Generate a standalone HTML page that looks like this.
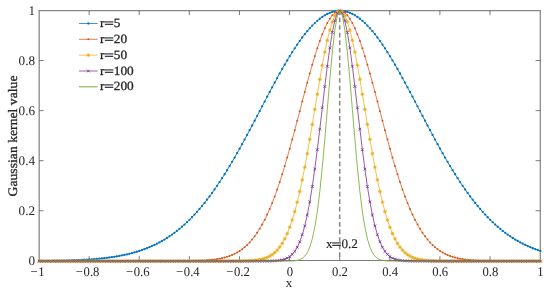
<!DOCTYPE html>
<html><head><meta charset="utf-8"><title>Gaussian kernel</title>
<style>html,body{margin:0;padding:0;background:#fff}svg text.b{stroke:#262626;stroke-width:0.3px}svg text{text-rendering:geometricPrecision;font-family:"Liberation Serif", serif}</style></head>
<body>
<svg width="550" height="293" viewBox="0 0 550 293" style="display:block">
<rect width="550" height="293" fill="#fff"/>
<path d="M38.40 10.6H540.90" stroke="#868686" stroke-width="1.25" fill="none"/>
<path d="M38.40 260.5H540.90" stroke="#7a7a7a" stroke-width="1.1" fill="none"/>
<path d="M39.20 10.6V260.5M540.30 10.6V260.5" stroke="#868686" stroke-width="1.25" fill="none"/>
<path d="M89.11 260.80V256.20M89.11 10.50V15.10M139.23 260.80V256.20M139.23 10.50V15.10M189.35 260.80V256.20M189.35 10.50V15.10M239.46 260.80V256.20M239.46 10.50V15.10M289.57 260.80V256.20M289.57 10.50V15.10M339.69 260.80V256.20M339.69 10.50V15.10M389.81 260.80V256.20M389.81 10.50V15.10M439.92 260.80V256.20M439.92 10.50V15.10M490.03 260.80V256.20M490.03 10.50V15.10M39.00 210.74H43.60M540.15 210.74H535.55M39.00 160.68H43.60M540.15 160.68H535.55M39.00 110.62H43.60M540.15 110.62H535.55M39.00 60.56H43.60M540.15 60.56H535.55" stroke="#5a5a5a" stroke-width="0.8" fill="none"/>
<line x1="339.69" y1="10.03" x2="339.69" y2="260.80" stroke="#8a8a8a" stroke-width="1.6" stroke-dasharray="4.7 2.87"/>
<path d="M39.15 260.96L41.66 260.94L44.16 260.91L46.67 260.88L49.17 260.85L51.68 260.81L54.18 260.77L56.69 260.73L59.20 260.68L61.70 260.62L64.21 260.56L66.71 260.49L69.22 260.42L71.72 260.33L74.23 260.24L76.74 260.14L79.24 260.03L81.75 259.91L84.25 259.77L86.76 259.62L89.26 259.46L91.77 259.29L94.28 259.09L96.78 258.88L99.29 258.65L101.79 258.40L104.30 258.13L106.81 257.84L109.31 257.51L111.82 257.17L114.32 256.79L116.83 256.38L119.33 255.94L121.84 255.46L124.35 254.95L126.85 254.40L129.36 253.80L131.86 253.16L134.37 252.47L136.87 251.74L139.38 250.95L141.89 250.10L144.39 249.20L146.90 248.24L149.40 247.21L151.91 246.12L154.41 244.96L156.92 243.72L159.43 242.41L161.93 241.02L164.44 239.55L166.94 238.00L169.45 236.35L171.95 234.62L174.46 232.80L176.97 230.88L179.47 228.86L181.98 226.75L184.48 224.53L186.99 222.20L189.50 219.78L192.00 217.24L194.51 214.59L197.01 211.84L199.52 208.97L202.02 205.99L204.53 202.90L207.04 199.70L209.54 196.39L212.05 192.97L214.55 189.44L217.06 185.80L219.56 182.05L222.07 178.21L224.58 174.26L227.08 170.21L229.59 166.08L232.09 161.85L234.60 157.54L237.10 153.15L239.61 148.68L242.12 144.15L244.62 139.56L247.13 134.91L249.63 130.22L252.14 125.49L254.64 120.73L257.15 115.94L259.66 111.15L262.16 106.35L264.67 101.55L267.17 96.77L269.68 92.02L272.18 87.31L274.69 82.64L277.20 78.03L279.70 73.48L282.21 69.02L284.71 64.65L287.22 60.38L289.72 56.22L292.23 52.19L294.74 48.28L297.24 44.53L299.75 40.92L302.25 37.48L304.76 34.22L307.27 31.13L309.77 28.24L312.28 25.54L314.78 23.06L317.29 20.78L319.79 18.73L322.30 16.91L324.81 15.32L327.31 13.96L329.82 12.84L332.32 11.97L334.83 11.35L337.33 10.98L339.84 10.85L342.35 10.98L344.85 11.35L347.36 11.97L349.86 12.84L352.37 13.96L354.87 15.32L357.38 16.91L359.89 18.73L362.39 20.78L364.90 23.06L367.40 25.54L369.91 28.24L372.41 31.13L374.92 34.22L377.43 37.48L379.93 40.92L382.44 44.53L384.94 48.28L387.45 52.19L389.95 56.22L392.46 60.38L394.97 64.65L397.47 69.02L399.98 73.48L402.48 78.03L404.99 82.64L407.50 87.31L410.00 92.02L412.51 96.77L415.01 101.55L417.52 106.35L420.02 111.15L422.53 115.94L425.04 120.73L427.54 125.49L430.05 130.22L432.55 134.91L435.06 139.56L437.56 144.15L440.07 148.68L442.58 153.15L445.08 157.54L447.59 161.85L450.09 166.08L452.60 170.21L455.10 174.26L457.61 178.21L460.12 182.05L462.62 185.80L465.13 189.44L467.63 192.97L470.14 196.39L472.64 199.70L475.15 202.90L477.66 205.99L480.16 208.97L482.67 211.84L485.17 214.59L487.68 217.24L490.18 219.78L492.69 222.20L495.20 224.53L497.70 226.75L500.21 228.86L502.71 230.88L505.22 232.80L507.73 234.62L510.23 236.35L512.74 238.00L515.24 239.55L517.75 241.02L520.25 242.41L522.76 243.72L525.27 244.96L527.77 246.12L530.28 247.21L532.78 248.24L535.29 249.20L537.79 250.10L540.30 250.95" fill="none" stroke="#0072BD" stroke-width="0.9" stroke-linejoin="round"/>
<g><circle cx="39.15" cy="260.96" r="1.15" fill="#0072BD"/><circle cx="41.66" cy="260.94" r="1.15" fill="#0072BD"/><circle cx="44.16" cy="260.91" r="1.15" fill="#0072BD"/><circle cx="46.67" cy="260.88" r="1.15" fill="#0072BD"/><circle cx="49.17" cy="260.85" r="1.15" fill="#0072BD"/><circle cx="51.68" cy="260.81" r="1.15" fill="#0072BD"/><circle cx="54.18" cy="260.77" r="1.15" fill="#0072BD"/><circle cx="56.69" cy="260.73" r="1.15" fill="#0072BD"/><circle cx="59.20" cy="260.68" r="1.15" fill="#0072BD"/><circle cx="61.70" cy="260.62" r="1.15" fill="#0072BD"/><circle cx="64.21" cy="260.56" r="1.15" fill="#0072BD"/><circle cx="66.71" cy="260.49" r="1.15" fill="#0072BD"/><circle cx="69.22" cy="260.42" r="1.15" fill="#0072BD"/><circle cx="71.72" cy="260.33" r="1.15" fill="#0072BD"/><circle cx="74.23" cy="260.24" r="1.15" fill="#0072BD"/><circle cx="76.74" cy="260.14" r="1.15" fill="#0072BD"/><circle cx="79.24" cy="260.03" r="1.15" fill="#0072BD"/><circle cx="81.75" cy="259.91" r="1.15" fill="#0072BD"/><circle cx="84.25" cy="259.77" r="1.15" fill="#0072BD"/><circle cx="86.76" cy="259.62" r="1.15" fill="#0072BD"/><circle cx="89.26" cy="259.46" r="1.15" fill="#0072BD"/><circle cx="91.77" cy="259.29" r="1.15" fill="#0072BD"/><circle cx="94.28" cy="259.09" r="1.15" fill="#0072BD"/><circle cx="96.78" cy="258.88" r="1.15" fill="#0072BD"/><circle cx="99.29" cy="258.65" r="1.15" fill="#0072BD"/><circle cx="101.79" cy="258.40" r="1.15" fill="#0072BD"/><circle cx="104.30" cy="258.13" r="1.15" fill="#0072BD"/><circle cx="106.81" cy="257.84" r="1.15" fill="#0072BD"/><circle cx="109.31" cy="257.51" r="1.15" fill="#0072BD"/><circle cx="111.82" cy="257.17" r="1.15" fill="#0072BD"/><circle cx="114.32" cy="256.79" r="1.15" fill="#0072BD"/><circle cx="116.83" cy="256.38" r="1.15" fill="#0072BD"/><circle cx="119.33" cy="255.94" r="1.15" fill="#0072BD"/><circle cx="121.84" cy="255.46" r="1.15" fill="#0072BD"/><circle cx="124.35" cy="254.95" r="1.15" fill="#0072BD"/><circle cx="126.85" cy="254.40" r="1.15" fill="#0072BD"/><circle cx="129.36" cy="253.80" r="1.15" fill="#0072BD"/><circle cx="131.86" cy="253.16" r="1.15" fill="#0072BD"/><circle cx="134.37" cy="252.47" r="1.15" fill="#0072BD"/><circle cx="136.87" cy="251.74" r="1.15" fill="#0072BD"/><circle cx="139.38" cy="250.95" r="1.15" fill="#0072BD"/><circle cx="141.89" cy="250.10" r="1.15" fill="#0072BD"/><circle cx="144.39" cy="249.20" r="1.15" fill="#0072BD"/><circle cx="146.90" cy="248.24" r="1.15" fill="#0072BD"/><circle cx="149.40" cy="247.21" r="1.15" fill="#0072BD"/><circle cx="151.91" cy="246.12" r="1.15" fill="#0072BD"/><circle cx="154.41" cy="244.96" r="1.15" fill="#0072BD"/><circle cx="156.92" cy="243.72" r="1.15" fill="#0072BD"/><circle cx="159.43" cy="242.41" r="1.15" fill="#0072BD"/><circle cx="161.93" cy="241.02" r="1.15" fill="#0072BD"/><circle cx="164.44" cy="239.55" r="1.15" fill="#0072BD"/><circle cx="166.94" cy="238.00" r="1.15" fill="#0072BD"/><circle cx="169.45" cy="236.35" r="1.15" fill="#0072BD"/><circle cx="171.95" cy="234.62" r="1.15" fill="#0072BD"/><circle cx="174.46" cy="232.80" r="1.15" fill="#0072BD"/><circle cx="176.97" cy="230.88" r="1.15" fill="#0072BD"/><circle cx="179.47" cy="228.86" r="1.15" fill="#0072BD"/><circle cx="181.98" cy="226.75" r="1.15" fill="#0072BD"/><circle cx="184.48" cy="224.53" r="1.15" fill="#0072BD"/><circle cx="186.99" cy="222.20" r="1.15" fill="#0072BD"/><circle cx="189.50" cy="219.78" r="1.15" fill="#0072BD"/><circle cx="192.00" cy="217.24" r="1.15" fill="#0072BD"/><circle cx="194.51" cy="214.59" r="1.15" fill="#0072BD"/><circle cx="197.01" cy="211.84" r="1.15" fill="#0072BD"/><circle cx="199.52" cy="208.97" r="1.15" fill="#0072BD"/><circle cx="202.02" cy="205.99" r="1.15" fill="#0072BD"/><circle cx="204.53" cy="202.90" r="1.15" fill="#0072BD"/><circle cx="207.04" cy="199.70" r="1.15" fill="#0072BD"/><circle cx="209.54" cy="196.39" r="1.15" fill="#0072BD"/><circle cx="212.05" cy="192.97" r="1.15" fill="#0072BD"/><circle cx="214.55" cy="189.44" r="1.15" fill="#0072BD"/><circle cx="217.06" cy="185.80" r="1.15" fill="#0072BD"/><circle cx="219.56" cy="182.05" r="1.15" fill="#0072BD"/><circle cx="222.07" cy="178.21" r="1.15" fill="#0072BD"/><circle cx="224.58" cy="174.26" r="1.15" fill="#0072BD"/><circle cx="227.08" cy="170.21" r="1.15" fill="#0072BD"/><circle cx="229.59" cy="166.08" r="1.15" fill="#0072BD"/><circle cx="232.09" cy="161.85" r="1.15" fill="#0072BD"/><circle cx="234.60" cy="157.54" r="1.15" fill="#0072BD"/><circle cx="237.10" cy="153.15" r="1.15" fill="#0072BD"/><circle cx="239.61" cy="148.68" r="1.15" fill="#0072BD"/><circle cx="242.12" cy="144.15" r="1.15" fill="#0072BD"/><circle cx="244.62" cy="139.56" r="1.15" fill="#0072BD"/><circle cx="247.13" cy="134.91" r="1.15" fill="#0072BD"/><circle cx="249.63" cy="130.22" r="1.15" fill="#0072BD"/><circle cx="252.14" cy="125.49" r="1.15" fill="#0072BD"/><circle cx="254.64" cy="120.73" r="1.15" fill="#0072BD"/><circle cx="257.15" cy="115.94" r="1.15" fill="#0072BD"/><circle cx="259.66" cy="111.15" r="1.15" fill="#0072BD"/><circle cx="262.16" cy="106.35" r="1.15" fill="#0072BD"/><circle cx="264.67" cy="101.55" r="1.15" fill="#0072BD"/><circle cx="267.17" cy="96.77" r="1.15" fill="#0072BD"/><circle cx="269.68" cy="92.02" r="1.15" fill="#0072BD"/><circle cx="272.18" cy="87.31" r="1.15" fill="#0072BD"/><circle cx="274.69" cy="82.64" r="1.15" fill="#0072BD"/><circle cx="277.20" cy="78.03" r="1.15" fill="#0072BD"/><circle cx="279.70" cy="73.48" r="1.15" fill="#0072BD"/><circle cx="282.21" cy="69.02" r="1.15" fill="#0072BD"/><circle cx="284.71" cy="64.65" r="1.15" fill="#0072BD"/><circle cx="287.22" cy="60.38" r="1.15" fill="#0072BD"/><circle cx="289.72" cy="56.22" r="1.15" fill="#0072BD"/><circle cx="292.23" cy="52.19" r="1.15" fill="#0072BD"/><circle cx="294.74" cy="48.28" r="1.15" fill="#0072BD"/><circle cx="297.24" cy="44.53" r="1.15" fill="#0072BD"/><circle cx="299.75" cy="40.92" r="1.15" fill="#0072BD"/><circle cx="302.25" cy="37.48" r="1.15" fill="#0072BD"/><circle cx="304.76" cy="34.22" r="1.15" fill="#0072BD"/><circle cx="307.27" cy="31.13" r="1.15" fill="#0072BD"/><circle cx="309.77" cy="28.24" r="1.15" fill="#0072BD"/><circle cx="312.28" cy="25.54" r="1.15" fill="#0072BD"/><circle cx="314.78" cy="23.06" r="1.15" fill="#0072BD"/><circle cx="317.29" cy="20.78" r="1.15" fill="#0072BD"/><circle cx="319.79" cy="18.73" r="1.15" fill="#0072BD"/><circle cx="322.30" cy="16.91" r="1.15" fill="#0072BD"/><circle cx="324.81" cy="15.32" r="1.15" fill="#0072BD"/><circle cx="327.31" cy="13.96" r="1.15" fill="#0072BD"/><circle cx="329.82" cy="12.84" r="1.15" fill="#0072BD"/><circle cx="332.32" cy="11.97" r="1.15" fill="#0072BD"/><circle cx="334.83" cy="11.35" r="1.15" fill="#0072BD"/><circle cx="337.33" cy="10.98" r="1.15" fill="#0072BD"/><circle cx="339.84" cy="10.85" r="1.15" fill="#0072BD"/><circle cx="342.35" cy="10.98" r="1.15" fill="#0072BD"/><circle cx="344.85" cy="11.35" r="1.15" fill="#0072BD"/><circle cx="347.36" cy="11.97" r="1.15" fill="#0072BD"/><circle cx="349.86" cy="12.84" r="1.15" fill="#0072BD"/><circle cx="352.37" cy="13.96" r="1.15" fill="#0072BD"/><circle cx="354.87" cy="15.32" r="1.15" fill="#0072BD"/><circle cx="357.38" cy="16.91" r="1.15" fill="#0072BD"/><circle cx="359.89" cy="18.73" r="1.15" fill="#0072BD"/><circle cx="362.39" cy="20.78" r="1.15" fill="#0072BD"/><circle cx="364.90" cy="23.06" r="1.15" fill="#0072BD"/><circle cx="367.40" cy="25.54" r="1.15" fill="#0072BD"/><circle cx="369.91" cy="28.24" r="1.15" fill="#0072BD"/><circle cx="372.41" cy="31.13" r="1.15" fill="#0072BD"/><circle cx="374.92" cy="34.22" r="1.15" fill="#0072BD"/><circle cx="377.43" cy="37.48" r="1.15" fill="#0072BD"/><circle cx="379.93" cy="40.92" r="1.15" fill="#0072BD"/><circle cx="382.44" cy="44.53" r="1.15" fill="#0072BD"/><circle cx="384.94" cy="48.28" r="1.15" fill="#0072BD"/><circle cx="387.45" cy="52.19" r="1.15" fill="#0072BD"/><circle cx="389.95" cy="56.22" r="1.15" fill="#0072BD"/><circle cx="392.46" cy="60.38" r="1.15" fill="#0072BD"/><circle cx="394.97" cy="64.65" r="1.15" fill="#0072BD"/><circle cx="397.47" cy="69.02" r="1.15" fill="#0072BD"/><circle cx="399.98" cy="73.48" r="1.15" fill="#0072BD"/><circle cx="402.48" cy="78.03" r="1.15" fill="#0072BD"/><circle cx="404.99" cy="82.64" r="1.15" fill="#0072BD"/><circle cx="407.50" cy="87.31" r="1.15" fill="#0072BD"/><circle cx="410.00" cy="92.02" r="1.15" fill="#0072BD"/><circle cx="412.51" cy="96.77" r="1.15" fill="#0072BD"/><circle cx="415.01" cy="101.55" r="1.15" fill="#0072BD"/><circle cx="417.52" cy="106.35" r="1.15" fill="#0072BD"/><circle cx="420.02" cy="111.15" r="1.15" fill="#0072BD"/><circle cx="422.53" cy="115.94" r="1.15" fill="#0072BD"/><circle cx="425.04" cy="120.73" r="1.15" fill="#0072BD"/><circle cx="427.54" cy="125.49" r="1.15" fill="#0072BD"/><circle cx="430.05" cy="130.22" r="1.15" fill="#0072BD"/><circle cx="432.55" cy="134.91" r="1.15" fill="#0072BD"/><circle cx="435.06" cy="139.56" r="1.15" fill="#0072BD"/><circle cx="437.56" cy="144.15" r="1.15" fill="#0072BD"/><circle cx="440.07" cy="148.68" r="1.15" fill="#0072BD"/><circle cx="442.58" cy="153.15" r="1.15" fill="#0072BD"/><circle cx="445.08" cy="157.54" r="1.15" fill="#0072BD"/><circle cx="447.59" cy="161.85" r="1.15" fill="#0072BD"/><circle cx="450.09" cy="166.08" r="1.15" fill="#0072BD"/><circle cx="452.60" cy="170.21" r="1.15" fill="#0072BD"/><circle cx="455.10" cy="174.26" r="1.15" fill="#0072BD"/><circle cx="457.61" cy="178.21" r="1.15" fill="#0072BD"/><circle cx="460.12" cy="182.05" r="1.15" fill="#0072BD"/><circle cx="462.62" cy="185.80" r="1.15" fill="#0072BD"/><circle cx="465.13" cy="189.44" r="1.15" fill="#0072BD"/><circle cx="467.63" cy="192.97" r="1.15" fill="#0072BD"/><circle cx="470.14" cy="196.39" r="1.15" fill="#0072BD"/><circle cx="472.64" cy="199.70" r="1.15" fill="#0072BD"/><circle cx="475.15" cy="202.90" r="1.15" fill="#0072BD"/><circle cx="477.66" cy="205.99" r="1.15" fill="#0072BD"/><circle cx="480.16" cy="208.97" r="1.15" fill="#0072BD"/><circle cx="482.67" cy="211.84" r="1.15" fill="#0072BD"/><circle cx="485.17" cy="214.59" r="1.15" fill="#0072BD"/><circle cx="487.68" cy="217.24" r="1.15" fill="#0072BD"/><circle cx="490.18" cy="219.78" r="1.15" fill="#0072BD"/><circle cx="492.69" cy="222.20" r="1.15" fill="#0072BD"/><circle cx="495.20" cy="224.53" r="1.15" fill="#0072BD"/><circle cx="497.70" cy="226.75" r="1.15" fill="#0072BD"/><circle cx="500.21" cy="228.86" r="1.15" fill="#0072BD"/><circle cx="502.71" cy="230.88" r="1.15" fill="#0072BD"/><circle cx="505.22" cy="232.80" r="1.15" fill="#0072BD"/><circle cx="507.73" cy="234.62" r="1.15" fill="#0072BD"/><circle cx="510.23" cy="236.35" r="1.15" fill="#0072BD"/><circle cx="512.74" cy="238.00" r="1.15" fill="#0072BD"/><circle cx="515.24" cy="239.55" r="1.15" fill="#0072BD"/><circle cx="517.75" cy="241.02" r="1.15" fill="#0072BD"/><circle cx="520.25" cy="242.41" r="1.15" fill="#0072BD"/><circle cx="522.76" cy="243.72" r="1.15" fill="#0072BD"/><circle cx="525.27" cy="244.96" r="1.15" fill="#0072BD"/><circle cx="527.77" cy="246.12" r="1.15" fill="#0072BD"/><circle cx="530.28" cy="247.21" r="1.15" fill="#0072BD"/><circle cx="532.78" cy="248.24" r="1.15" fill="#0072BD"/><circle cx="535.29" cy="249.20" r="1.15" fill="#0072BD"/><circle cx="537.79" cy="250.10" r="1.15" fill="#0072BD"/><circle cx="540.30" cy="250.95" r="1.15" fill="#0072BD"/></g>
<path d="M39.15 261.15L41.66 261.15L44.16 261.15L46.67 261.15L49.17 261.15L51.68 261.15L54.18 261.15L56.69 261.15L59.20 261.15L61.70 261.15L64.21 261.15L66.71 261.15L69.22 261.15L71.72 261.15L74.23 261.15L76.74 261.15L79.24 261.15L81.75 261.15L84.25 261.15L86.76 261.15L89.26 261.15L91.77 261.15L94.28 261.15L96.78 261.15L99.29 261.15L101.79 261.15L104.30 261.15L106.81 261.15L109.31 261.15L111.82 261.15L114.32 261.15L116.83 261.15L119.33 261.15L121.84 261.15L124.35 261.15L126.85 261.15L129.36 261.15L131.86 261.15L134.37 261.15L136.87 261.15L139.38 261.15L141.89 261.15L144.39 261.15L146.90 261.15L149.40 261.15L151.91 261.15L154.41 261.15L156.92 261.14L159.43 261.14L161.93 261.14L164.44 261.14L166.94 261.13L169.45 261.13L171.95 261.12L174.46 261.11L176.97 261.10L179.47 261.08L181.98 261.06L184.48 261.04L186.99 261.00L189.50 260.96L192.00 260.91L194.51 260.85L197.01 260.77L199.52 260.68L202.02 260.56L204.53 260.42L207.04 260.24L209.54 260.03L212.05 259.77L214.55 259.46L217.06 259.09L219.56 258.65L222.07 258.13L224.58 257.51L227.08 256.79L229.59 255.94L232.09 254.95L234.60 253.80L237.10 252.47L239.61 250.95L242.12 249.20L244.62 247.21L247.13 244.96L249.63 242.41L252.14 239.55L254.64 236.35L257.15 232.80L259.66 228.86L262.16 224.53L264.67 219.78L267.17 214.59L269.68 208.97L272.18 202.90L274.69 196.39L277.20 189.44L279.70 182.05L282.21 174.26L284.71 166.08L287.22 157.54L289.72 148.68L292.23 139.56L294.74 130.22L297.24 120.73L299.75 111.15L302.25 101.55L304.76 92.02L307.27 82.64L309.77 73.48L312.28 64.65L314.78 56.22L317.29 48.28L319.79 40.92L322.30 34.22L324.81 28.24L327.31 23.06L329.82 18.73L332.32 15.32L334.83 12.84L337.33 11.35L339.84 10.85L342.35 11.35L344.85 12.84L347.36 15.32L349.86 18.73L352.37 23.06L354.87 28.24L357.38 34.22L359.89 40.92L362.39 48.28L364.90 56.22L367.40 64.65L369.91 73.48L372.41 82.64L374.92 92.02L377.43 101.55L379.93 111.15L382.44 120.73L384.94 130.22L387.45 139.56L389.95 148.68L392.46 157.54L394.97 166.08L397.47 174.26L399.98 182.05L402.48 189.44L404.99 196.39L407.50 202.90L410.00 208.97L412.51 214.59L415.01 219.78L417.52 224.53L420.02 228.86L422.53 232.80L425.04 236.35L427.54 239.55L430.05 242.41L432.55 244.96L435.06 247.21L437.56 249.20L440.07 250.95L442.58 252.47L445.08 253.80L447.59 254.95L450.09 255.94L452.60 256.79L455.10 257.51L457.61 258.13L460.12 258.65L462.62 259.09L465.13 259.46L467.63 259.77L470.14 260.03L472.64 260.24L475.15 260.42L477.66 260.56L480.16 260.68L482.67 260.77L485.17 260.85L487.68 260.91L490.18 260.96L492.69 261.00L495.20 261.04L497.70 261.06L500.21 261.08L502.71 261.10L505.22 261.11L507.73 261.12L510.23 261.13L512.74 261.13L515.24 261.14L517.75 261.14L520.25 261.14L522.76 261.14L525.27 261.15L527.77 261.15L530.28 261.15L532.78 261.15L535.29 261.15L537.79 261.15L540.30 261.15" fill="none" stroke="#D95319" stroke-width="0.75" stroke-linejoin="round"/>
<g><circle cx="39.15" cy="261.15" r="1.0" fill="#D95319"/><circle cx="41.66" cy="261.15" r="1.0" fill="#D95319"/><circle cx="44.16" cy="261.15" r="1.0" fill="#D95319"/><circle cx="46.67" cy="261.15" r="1.0" fill="#D95319"/><circle cx="49.17" cy="261.15" r="1.0" fill="#D95319"/><circle cx="51.68" cy="261.15" r="1.0" fill="#D95319"/><circle cx="54.18" cy="261.15" r="1.0" fill="#D95319"/><circle cx="56.69" cy="261.15" r="1.0" fill="#D95319"/><circle cx="59.20" cy="261.15" r="1.0" fill="#D95319"/><circle cx="61.70" cy="261.15" r="1.0" fill="#D95319"/><circle cx="64.21" cy="261.15" r="1.0" fill="#D95319"/><circle cx="66.71" cy="261.15" r="1.0" fill="#D95319"/><circle cx="69.22" cy="261.15" r="1.0" fill="#D95319"/><circle cx="71.72" cy="261.15" r="1.0" fill="#D95319"/><circle cx="74.23" cy="261.15" r="1.0" fill="#D95319"/><circle cx="76.74" cy="261.15" r="1.0" fill="#D95319"/><circle cx="79.24" cy="261.15" r="1.0" fill="#D95319"/><circle cx="81.75" cy="261.15" r="1.0" fill="#D95319"/><circle cx="84.25" cy="261.15" r="1.0" fill="#D95319"/><circle cx="86.76" cy="261.15" r="1.0" fill="#D95319"/><circle cx="89.26" cy="261.15" r="1.0" fill="#D95319"/><circle cx="91.77" cy="261.15" r="1.0" fill="#D95319"/><circle cx="94.28" cy="261.15" r="1.0" fill="#D95319"/><circle cx="96.78" cy="261.15" r="1.0" fill="#D95319"/><circle cx="99.29" cy="261.15" r="1.0" fill="#D95319"/><circle cx="101.79" cy="261.15" r="1.0" fill="#D95319"/><circle cx="104.30" cy="261.15" r="1.0" fill="#D95319"/><circle cx="106.81" cy="261.15" r="1.0" fill="#D95319"/><circle cx="109.31" cy="261.15" r="1.0" fill="#D95319"/><circle cx="111.82" cy="261.15" r="1.0" fill="#D95319"/><circle cx="114.32" cy="261.15" r="1.0" fill="#D95319"/><circle cx="116.83" cy="261.15" r="1.0" fill="#D95319"/><circle cx="119.33" cy="261.15" r="1.0" fill="#D95319"/><circle cx="121.84" cy="261.15" r="1.0" fill="#D95319"/><circle cx="124.35" cy="261.15" r="1.0" fill="#D95319"/><circle cx="126.85" cy="261.15" r="1.0" fill="#D95319"/><circle cx="129.36" cy="261.15" r="1.0" fill="#D95319"/><circle cx="131.86" cy="261.15" r="1.0" fill="#D95319"/><circle cx="134.37" cy="261.15" r="1.0" fill="#D95319"/><circle cx="136.87" cy="261.15" r="1.0" fill="#D95319"/><circle cx="139.38" cy="261.15" r="1.0" fill="#D95319"/><circle cx="141.89" cy="261.15" r="1.0" fill="#D95319"/><circle cx="144.39" cy="261.15" r="1.0" fill="#D95319"/><circle cx="146.90" cy="261.15" r="1.0" fill="#D95319"/><circle cx="149.40" cy="261.15" r="1.0" fill="#D95319"/><circle cx="151.91" cy="261.15" r="1.0" fill="#D95319"/><circle cx="154.41" cy="261.15" r="1.0" fill="#D95319"/><circle cx="156.92" cy="261.14" r="1.0" fill="#D95319"/><circle cx="159.43" cy="261.14" r="1.0" fill="#D95319"/><circle cx="161.93" cy="261.14" r="1.0" fill="#D95319"/><circle cx="164.44" cy="261.14" r="1.0" fill="#D95319"/><circle cx="166.94" cy="261.13" r="1.0" fill="#D95319"/><circle cx="169.45" cy="261.13" r="1.0" fill="#D95319"/><circle cx="171.95" cy="261.12" r="1.0" fill="#D95319"/><circle cx="174.46" cy="261.11" r="1.0" fill="#D95319"/><circle cx="176.97" cy="261.10" r="1.0" fill="#D95319"/><circle cx="179.47" cy="261.08" r="1.0" fill="#D95319"/><circle cx="181.98" cy="261.06" r="1.0" fill="#D95319"/><circle cx="184.48" cy="261.04" r="1.0" fill="#D95319"/><circle cx="186.99" cy="261.00" r="1.0" fill="#D95319"/><circle cx="189.50" cy="260.96" r="1.0" fill="#D95319"/><circle cx="192.00" cy="260.91" r="1.0" fill="#D95319"/><circle cx="194.51" cy="260.85" r="1.0" fill="#D95319"/><circle cx="197.01" cy="260.77" r="1.0" fill="#D95319"/><circle cx="199.52" cy="260.68" r="1.0" fill="#D95319"/><circle cx="202.02" cy="260.56" r="1.0" fill="#D95319"/><circle cx="204.53" cy="260.42" r="1.0" fill="#D95319"/><circle cx="207.04" cy="260.24" r="1.0" fill="#D95319"/><circle cx="209.54" cy="260.03" r="1.0" fill="#D95319"/><circle cx="212.05" cy="259.77" r="1.0" fill="#D95319"/><circle cx="214.55" cy="259.46" r="1.0" fill="#D95319"/><circle cx="217.06" cy="259.09" r="1.0" fill="#D95319"/><circle cx="219.56" cy="258.65" r="1.0" fill="#D95319"/><circle cx="222.07" cy="258.13" r="1.0" fill="#D95319"/><circle cx="224.58" cy="257.51" r="1.0" fill="#D95319"/><circle cx="227.08" cy="256.79" r="1.0" fill="#D95319"/><circle cx="229.59" cy="255.94" r="1.0" fill="#D95319"/><circle cx="232.09" cy="254.95" r="1.0" fill="#D95319"/><circle cx="234.60" cy="253.80" r="1.0" fill="#D95319"/><circle cx="237.10" cy="252.47" r="1.0" fill="#D95319"/><circle cx="239.61" cy="250.95" r="1.0" fill="#D95319"/><circle cx="242.12" cy="249.20" r="1.0" fill="#D95319"/><circle cx="244.62" cy="247.21" r="1.0" fill="#D95319"/><circle cx="247.13" cy="244.96" r="1.0" fill="#D95319"/><circle cx="249.63" cy="242.41" r="1.0" fill="#D95319"/><circle cx="252.14" cy="239.55" r="1.0" fill="#D95319"/><circle cx="254.64" cy="236.35" r="1.0" fill="#D95319"/><circle cx="257.15" cy="232.80" r="1.0" fill="#D95319"/><circle cx="259.66" cy="228.86" r="1.0" fill="#D95319"/><circle cx="262.16" cy="224.53" r="1.0" fill="#D95319"/><circle cx="264.67" cy="219.78" r="1.0" fill="#D95319"/><circle cx="267.17" cy="214.59" r="1.0" fill="#D95319"/><circle cx="269.68" cy="208.97" r="1.0" fill="#D95319"/><circle cx="272.18" cy="202.90" r="1.0" fill="#D95319"/><circle cx="274.69" cy="196.39" r="1.0" fill="#D95319"/><circle cx="277.20" cy="189.44" r="1.0" fill="#D95319"/><circle cx="279.70" cy="182.05" r="1.0" fill="#D95319"/><circle cx="282.21" cy="174.26" r="1.0" fill="#D95319"/><circle cx="284.71" cy="166.08" r="1.0" fill="#D95319"/><circle cx="287.22" cy="157.54" r="1.0" fill="#D95319"/><circle cx="289.72" cy="148.68" r="1.0" fill="#D95319"/><circle cx="292.23" cy="139.56" r="1.0" fill="#D95319"/><circle cx="294.74" cy="130.22" r="1.0" fill="#D95319"/><circle cx="297.24" cy="120.73" r="1.0" fill="#D95319"/><circle cx="299.75" cy="111.15" r="1.0" fill="#D95319"/><circle cx="302.25" cy="101.55" r="1.0" fill="#D95319"/><circle cx="304.76" cy="92.02" r="1.0" fill="#D95319"/><circle cx="307.27" cy="82.64" r="1.0" fill="#D95319"/><circle cx="309.77" cy="73.48" r="1.0" fill="#D95319"/><circle cx="312.28" cy="64.65" r="1.0" fill="#D95319"/><circle cx="314.78" cy="56.22" r="1.0" fill="#D95319"/><circle cx="317.29" cy="48.28" r="1.0" fill="#D95319"/><circle cx="319.79" cy="40.92" r="1.0" fill="#D95319"/><circle cx="322.30" cy="34.22" r="1.0" fill="#D95319"/><circle cx="324.81" cy="28.24" r="1.0" fill="#D95319"/><circle cx="327.31" cy="23.06" r="1.0" fill="#D95319"/><circle cx="329.82" cy="18.73" r="1.0" fill="#D95319"/><circle cx="332.32" cy="15.32" r="1.0" fill="#D95319"/><circle cx="334.83" cy="12.84" r="1.0" fill="#D95319"/><circle cx="337.33" cy="11.35" r="1.0" fill="#D95319"/><circle cx="339.84" cy="10.85" r="1.0" fill="#D95319"/><circle cx="342.35" cy="11.35" r="1.0" fill="#D95319"/><circle cx="344.85" cy="12.84" r="1.0" fill="#D95319"/><circle cx="347.36" cy="15.32" r="1.0" fill="#D95319"/><circle cx="349.86" cy="18.73" r="1.0" fill="#D95319"/><circle cx="352.37" cy="23.06" r="1.0" fill="#D95319"/><circle cx="354.87" cy="28.24" r="1.0" fill="#D95319"/><circle cx="357.38" cy="34.22" r="1.0" fill="#D95319"/><circle cx="359.89" cy="40.92" r="1.0" fill="#D95319"/><circle cx="362.39" cy="48.28" r="1.0" fill="#D95319"/><circle cx="364.90" cy="56.22" r="1.0" fill="#D95319"/><circle cx="367.40" cy="64.65" r="1.0" fill="#D95319"/><circle cx="369.91" cy="73.48" r="1.0" fill="#D95319"/><circle cx="372.41" cy="82.64" r="1.0" fill="#D95319"/><circle cx="374.92" cy="92.02" r="1.0" fill="#D95319"/><circle cx="377.43" cy="101.55" r="1.0" fill="#D95319"/><circle cx="379.93" cy="111.15" r="1.0" fill="#D95319"/><circle cx="382.44" cy="120.73" r="1.0" fill="#D95319"/><circle cx="384.94" cy="130.22" r="1.0" fill="#D95319"/><circle cx="387.45" cy="139.56" r="1.0" fill="#D95319"/><circle cx="389.95" cy="148.68" r="1.0" fill="#D95319"/><circle cx="392.46" cy="157.54" r="1.0" fill="#D95319"/><circle cx="394.97" cy="166.08" r="1.0" fill="#D95319"/><circle cx="397.47" cy="174.26" r="1.0" fill="#D95319"/><circle cx="399.98" cy="182.05" r="1.0" fill="#D95319"/><circle cx="402.48" cy="189.44" r="1.0" fill="#D95319"/><circle cx="404.99" cy="196.39" r="1.0" fill="#D95319"/><circle cx="407.50" cy="202.90" r="1.0" fill="#D95319"/><circle cx="410.00" cy="208.97" r="1.0" fill="#D95319"/><circle cx="412.51" cy="214.59" r="1.0" fill="#D95319"/><circle cx="415.01" cy="219.78" r="1.0" fill="#D95319"/><circle cx="417.52" cy="224.53" r="1.0" fill="#D95319"/><circle cx="420.02" cy="228.86" r="1.0" fill="#D95319"/><circle cx="422.53" cy="232.80" r="1.0" fill="#D95319"/><circle cx="425.04" cy="236.35" r="1.0" fill="#D95319"/><circle cx="427.54" cy="239.55" r="1.0" fill="#D95319"/><circle cx="430.05" cy="242.41" r="1.0" fill="#D95319"/><circle cx="432.55" cy="244.96" r="1.0" fill="#D95319"/><circle cx="435.06" cy="247.21" r="1.0" fill="#D95319"/><circle cx="437.56" cy="249.20" r="1.0" fill="#D95319"/><circle cx="440.07" cy="250.95" r="1.0" fill="#D95319"/><circle cx="442.58" cy="252.47" r="1.0" fill="#D95319"/><circle cx="445.08" cy="253.80" r="1.0" fill="#D95319"/><circle cx="447.59" cy="254.95" r="1.0" fill="#D95319"/><circle cx="450.09" cy="255.94" r="1.0" fill="#D95319"/><circle cx="452.60" cy="256.79" r="1.0" fill="#D95319"/><circle cx="455.10" cy="257.51" r="1.0" fill="#D95319"/><circle cx="457.61" cy="258.13" r="1.0" fill="#D95319"/><circle cx="460.12" cy="258.65" r="1.0" fill="#D95319"/><circle cx="462.62" cy="259.09" r="1.0" fill="#D95319"/><circle cx="465.13" cy="259.46" r="1.0" fill="#D95319"/><circle cx="467.63" cy="259.77" r="1.0" fill="#D95319"/><circle cx="470.14" cy="260.03" r="1.0" fill="#D95319"/><circle cx="472.64" cy="260.24" r="1.0" fill="#D95319"/><circle cx="475.15" cy="260.42" r="1.0" fill="#D95319"/><circle cx="477.66" cy="260.56" r="1.0" fill="#D95319"/><circle cx="480.16" cy="260.68" r="1.0" fill="#D95319"/><circle cx="482.67" cy="260.77" r="1.0" fill="#D95319"/><circle cx="485.17" cy="260.85" r="1.0" fill="#D95319"/><circle cx="487.68" cy="260.91" r="1.0" fill="#D95319"/><circle cx="490.18" cy="260.96" r="1.0" fill="#D95319"/><circle cx="492.69" cy="261.00" r="1.0" fill="#D95319"/><circle cx="495.20" cy="261.04" r="1.0" fill="#D95319"/><circle cx="497.70" cy="261.06" r="1.0" fill="#D95319"/><circle cx="500.21" cy="261.08" r="1.0" fill="#D95319"/><circle cx="502.71" cy="261.10" r="1.0" fill="#D95319"/><circle cx="505.22" cy="261.11" r="1.0" fill="#D95319"/><circle cx="507.73" cy="261.12" r="1.0" fill="#D95319"/><circle cx="510.23" cy="261.13" r="1.0" fill="#D95319"/><circle cx="512.74" cy="261.13" r="1.0" fill="#D95319"/><circle cx="515.24" cy="261.14" r="1.0" fill="#D95319"/><circle cx="517.75" cy="261.14" r="1.0" fill="#D95319"/><circle cx="520.25" cy="261.14" r="1.0" fill="#D95319"/><circle cx="522.76" cy="261.14" r="1.0" fill="#D95319"/><circle cx="525.27" cy="261.15" r="1.0" fill="#D95319"/><circle cx="527.77" cy="261.15" r="1.0" fill="#D95319"/><circle cx="530.28" cy="261.15" r="1.0" fill="#D95319"/><circle cx="532.78" cy="261.15" r="1.0" fill="#D95319"/><circle cx="535.29" cy="261.15" r="1.0" fill="#D95319"/><circle cx="537.79" cy="261.15" r="1.0" fill="#D95319"/><circle cx="540.30" cy="261.15" r="1.0" fill="#D95319"/></g>
<path d="M39.15 261.15L41.66 261.15L44.16 261.15L46.67 261.15L49.17 261.15L51.68 261.15L54.18 261.15L56.69 261.15L59.20 261.15L61.70 261.15L64.21 261.15L66.71 261.15L69.22 261.15L71.72 261.15L74.23 261.15L76.74 261.15L79.24 261.15L81.75 261.15L84.25 261.15L86.76 261.15L89.26 261.15L91.77 261.15L94.28 261.15L96.78 261.15L99.29 261.15L101.79 261.15L104.30 261.15L106.81 261.15L109.31 261.15L111.82 261.15L114.32 261.15L116.83 261.15L119.33 261.15L121.84 261.15L124.35 261.15L126.85 261.15L129.36 261.15L131.86 261.15L134.37 261.15L136.87 261.15L139.38 261.15L141.89 261.15L144.39 261.15L146.90 261.15L149.40 261.15L151.91 261.15L154.41 261.15L156.92 261.15L159.43 261.15L161.93 261.15L164.44 261.15L166.94 261.15L169.45 261.15L171.95 261.15L174.46 261.15L176.97 261.15L179.47 261.15L181.98 261.15L184.48 261.15L186.99 261.15L189.50 261.15L192.00 261.15L194.51 261.15L197.01 261.15L199.52 261.15L202.02 261.15L204.53 261.15L207.04 261.15L209.54 261.15L212.05 261.15L214.55 261.15L217.06 261.15L219.56 261.15L222.07 261.15L224.58 261.14L227.08 261.14L229.59 261.13L232.09 261.13L234.60 261.11L237.10 261.09L239.61 261.07L242.12 261.03L244.62 260.97L247.13 260.88L249.63 260.77L252.14 260.60L254.64 260.38L257.15 260.07L259.66 259.65L262.16 259.10L264.67 258.37L267.17 257.42L269.68 256.18L272.18 254.61L274.69 252.63L277.20 250.15L279.70 247.10L282.21 243.38L284.71 238.89L287.22 233.55L289.72 227.28L292.23 219.98L294.74 211.62L297.24 202.14L299.75 191.56L302.25 179.89L304.76 167.21L307.27 153.63L309.77 139.32L312.28 124.47L314.78 109.34L317.29 94.21L319.79 79.39L322.30 65.24L324.81 52.08L327.31 40.26L329.82 30.09L332.32 21.86L334.83 15.81L337.33 12.10L339.84 10.85L342.35 12.10L344.85 15.81L347.36 21.86L349.86 30.09L352.37 40.26L354.87 52.08L357.38 65.24L359.89 79.39L362.39 94.21L364.90 109.34L367.40 124.47L369.91 139.32L372.41 153.63L374.92 167.21L377.43 179.89L379.93 191.56L382.44 202.14L384.94 211.62L387.45 219.98L389.95 227.28L392.46 233.55L394.97 238.89L397.47 243.38L399.98 247.10L402.48 250.15L404.99 252.63L407.50 254.61L410.00 256.18L412.51 257.42L415.01 258.37L417.52 259.10L420.02 259.65L422.53 260.07L425.04 260.38L427.54 260.60L430.05 260.77L432.55 260.88L435.06 260.97L437.56 261.03L440.07 261.07L442.58 261.09L445.08 261.11L447.59 261.13L450.09 261.13L452.60 261.14L455.10 261.14L457.61 261.15L460.12 261.15L462.62 261.15L465.13 261.15L467.63 261.15L470.14 261.15L472.64 261.15L475.15 261.15L477.66 261.15L480.16 261.15L482.67 261.15L485.17 261.15L487.68 261.15L490.18 261.15L492.69 261.15L495.20 261.15L497.70 261.15L500.21 261.15L502.71 261.15L505.22 261.15L507.73 261.15L510.23 261.15L512.74 261.15L515.24 261.15L517.75 261.15L520.25 261.15L522.76 261.15L525.27 261.15L527.77 261.15L530.28 261.15L532.78 261.15L535.29 261.15L537.79 261.15L540.30 261.15" fill="none" stroke="#EDB120" stroke-width="0.8" stroke-linejoin="round"/>
<g><circle cx="39.15" cy="261.15" r="1.1" fill="#EDB120"/><path d="M37.25 261.15L41.05 261.15M39.15 259.25L39.15 263.05M37.81 259.81L40.49 262.49M37.81 262.49L40.49 259.81" stroke="#EDB120" stroke-width="0.8" fill="none"/><circle cx="41.66" cy="261.15" r="1.1" fill="#EDB120"/><path d="M39.76 261.15L43.56 261.15M41.66 259.25L41.66 263.05M40.31 259.81L43.00 262.49M40.31 262.49L43.00 259.81" stroke="#EDB120" stroke-width="0.8" fill="none"/><circle cx="44.16" cy="261.15" r="1.1" fill="#EDB120"/><path d="M42.26 261.15L46.06 261.15M44.16 259.25L44.16 263.05M42.82 259.81L45.50 262.49M42.82 262.49L45.50 259.81" stroke="#EDB120" stroke-width="0.8" fill="none"/><circle cx="46.67" cy="261.15" r="1.1" fill="#EDB120"/><path d="M44.77 261.15L48.57 261.15M46.67 259.25L46.67 263.05M45.32 259.81L48.01 262.49M45.32 262.49L48.01 259.81" stroke="#EDB120" stroke-width="0.8" fill="none"/><circle cx="49.17" cy="261.15" r="1.1" fill="#EDB120"/><path d="M47.27 261.15L51.07 261.15M49.17 259.25L49.17 263.05M47.83 259.81L50.52 262.49M47.83 262.49L50.52 259.81" stroke="#EDB120" stroke-width="0.8" fill="none"/><circle cx="51.68" cy="261.15" r="1.1" fill="#EDB120"/><path d="M49.78 261.15L53.58 261.15M51.68 259.25L51.68 263.05M50.34 259.81L53.02 262.49M50.34 262.49L53.02 259.81" stroke="#EDB120" stroke-width="0.8" fill="none"/><circle cx="54.18" cy="261.15" r="1.1" fill="#EDB120"/><path d="M52.28 261.15L56.08 261.15M54.18 259.25L54.18 263.05M52.84 259.81L55.53 262.49M52.84 262.49L55.53 259.81" stroke="#EDB120" stroke-width="0.8" fill="none"/><circle cx="56.69" cy="261.15" r="1.1" fill="#EDB120"/><path d="M54.79 261.15L58.59 261.15M56.69 259.25L56.69 263.05M55.35 259.81L58.03 262.49M55.35 262.49L58.03 259.81" stroke="#EDB120" stroke-width="0.8" fill="none"/><circle cx="59.20" cy="261.15" r="1.1" fill="#EDB120"/><path d="M57.30 261.15L61.10 261.15M59.20 259.25L59.20 263.05M57.85 259.81L60.54 262.49M57.85 262.49L60.54 259.81" stroke="#EDB120" stroke-width="0.8" fill="none"/><circle cx="61.70" cy="261.15" r="1.1" fill="#EDB120"/><path d="M59.80 261.15L63.60 261.15M61.70 259.25L61.70 263.05M60.36 259.81L63.05 262.49M60.36 262.49L63.05 259.81" stroke="#EDB120" stroke-width="0.8" fill="none"/><circle cx="64.21" cy="261.15" r="1.1" fill="#EDB120"/><path d="M62.31 261.15L66.11 261.15M64.21 259.25L64.21 263.05M62.86 259.81L65.55 262.49M62.86 262.49L65.55 259.81" stroke="#EDB120" stroke-width="0.8" fill="none"/><circle cx="66.71" cy="261.15" r="1.1" fill="#EDB120"/><path d="M64.81 261.15L68.61 261.15M66.71 259.25L66.71 263.05M65.37 259.81L68.06 262.49M65.37 262.49L68.06 259.81" stroke="#EDB120" stroke-width="0.8" fill="none"/><circle cx="69.22" cy="261.15" r="1.1" fill="#EDB120"/><path d="M67.32 261.15L71.12 261.15M69.22 259.25L69.22 263.05M67.88 259.81L70.56 262.49M67.88 262.49L70.56 259.81" stroke="#EDB120" stroke-width="0.8" fill="none"/><circle cx="71.72" cy="261.15" r="1.1" fill="#EDB120"/><path d="M69.82 261.15L73.62 261.15M71.72 259.25L71.72 263.05M70.38 259.81L73.07 262.49M70.38 262.49L73.07 259.81" stroke="#EDB120" stroke-width="0.8" fill="none"/><circle cx="74.23" cy="261.15" r="1.1" fill="#EDB120"/><path d="M72.33 261.15L76.13 261.15M74.23 259.25L74.23 263.05M72.89 259.81L75.57 262.49M72.89 262.49L75.57 259.81" stroke="#EDB120" stroke-width="0.8" fill="none"/><circle cx="76.74" cy="261.15" r="1.1" fill="#EDB120"/><path d="M74.84 261.15L78.64 261.15M76.74 259.25L76.74 263.05M75.39 259.81L78.08 262.49M75.39 262.49L78.08 259.81" stroke="#EDB120" stroke-width="0.8" fill="none"/><circle cx="79.24" cy="261.15" r="1.1" fill="#EDB120"/><path d="M77.34 261.15L81.14 261.15M79.24 259.25L79.24 263.05M77.90 259.81L80.59 262.49M77.90 262.49L80.59 259.81" stroke="#EDB120" stroke-width="0.8" fill="none"/><circle cx="81.75" cy="261.15" r="1.1" fill="#EDB120"/><path d="M79.85 261.15L83.65 261.15M81.75 259.25L81.75 263.05M80.40 259.81L83.09 262.49M80.40 262.49L83.09 259.81" stroke="#EDB120" stroke-width="0.8" fill="none"/><circle cx="84.25" cy="261.15" r="1.1" fill="#EDB120"/><path d="M82.35 261.15L86.15 261.15M84.25 259.25L84.25 263.05M82.91 259.81L85.60 262.49M82.91 262.49L85.60 259.81" stroke="#EDB120" stroke-width="0.8" fill="none"/><circle cx="86.76" cy="261.15" r="1.1" fill="#EDB120"/><path d="M84.86 261.15L88.66 261.15M86.76 259.25L86.76 263.05M85.42 259.81L88.10 262.49M85.42 262.49L88.10 259.81" stroke="#EDB120" stroke-width="0.8" fill="none"/><circle cx="89.26" cy="261.15" r="1.1" fill="#EDB120"/><path d="M87.36 261.15L91.16 261.15M89.26 259.25L89.26 263.05M87.92 259.81L90.61 262.49M87.92 262.49L90.61 259.81" stroke="#EDB120" stroke-width="0.8" fill="none"/><circle cx="91.77" cy="261.15" r="1.1" fill="#EDB120"/><path d="M89.87 261.15L93.67 261.15M91.77 259.25L91.77 263.05M90.43 259.81L93.11 262.49M90.43 262.49L93.11 259.81" stroke="#EDB120" stroke-width="0.8" fill="none"/><circle cx="94.28" cy="261.15" r="1.1" fill="#EDB120"/><path d="M92.38 261.15L96.18 261.15M94.28 259.25L94.28 263.05M92.93 259.81L95.62 262.49M92.93 262.49L95.62 259.81" stroke="#EDB120" stroke-width="0.8" fill="none"/><circle cx="96.78" cy="261.15" r="1.1" fill="#EDB120"/><path d="M94.88 261.15L98.68 261.15M96.78 259.25L96.78 263.05M95.44 259.81L98.13 262.49M95.44 262.49L98.13 259.81" stroke="#EDB120" stroke-width="0.8" fill="none"/><circle cx="99.29" cy="261.15" r="1.1" fill="#EDB120"/><path d="M97.39 261.15L101.19 261.15M99.29 259.25L99.29 263.05M97.94 259.81L100.63 262.49M97.94 262.49L100.63 259.81" stroke="#EDB120" stroke-width="0.8" fill="none"/><circle cx="101.79" cy="261.15" r="1.1" fill="#EDB120"/><path d="M99.89 261.15L103.69 261.15M101.79 259.25L101.79 263.05M100.45 259.81L103.14 262.49M100.45 262.49L103.14 259.81" stroke="#EDB120" stroke-width="0.8" fill="none"/><circle cx="104.30" cy="261.15" r="1.1" fill="#EDB120"/><path d="M102.40 261.15L106.20 261.15M104.30 259.25L104.30 263.05M102.96 259.81L105.64 262.49M102.96 262.49L105.64 259.81" stroke="#EDB120" stroke-width="0.8" fill="none"/><circle cx="106.81" cy="261.15" r="1.1" fill="#EDB120"/><path d="M104.91 261.15L108.71 261.15M106.81 259.25L106.81 263.05M105.46 259.81L108.15 262.49M105.46 262.49L108.15 259.81" stroke="#EDB120" stroke-width="0.8" fill="none"/><circle cx="109.31" cy="261.15" r="1.1" fill="#EDB120"/><path d="M107.41 261.15L111.21 261.15M109.31 259.25L109.31 263.05M107.97 259.81L110.65 262.49M107.97 262.49L110.65 259.81" stroke="#EDB120" stroke-width="0.8" fill="none"/><circle cx="111.82" cy="261.15" r="1.1" fill="#EDB120"/><path d="M109.92 261.15L113.72 261.15M111.82 259.25L111.82 263.05M110.47 259.81L113.16 262.49M110.47 262.49L113.16 259.81" stroke="#EDB120" stroke-width="0.8" fill="none"/><circle cx="114.32" cy="261.15" r="1.1" fill="#EDB120"/><path d="M112.42 261.15L116.22 261.15M114.32 259.25L114.32 263.05M112.98 259.81L115.67 262.49M112.98 262.49L115.67 259.81" stroke="#EDB120" stroke-width="0.8" fill="none"/><circle cx="116.83" cy="261.15" r="1.1" fill="#EDB120"/><path d="M114.93 261.15L118.73 261.15M116.83 259.25L116.83 263.05M115.48 259.81L118.17 262.49M115.48 262.49L118.17 259.81" stroke="#EDB120" stroke-width="0.8" fill="none"/><circle cx="119.33" cy="261.15" r="1.1" fill="#EDB120"/><path d="M117.43 261.15L121.23 261.15M119.33 259.25L119.33 263.05M117.99 259.81L120.68 262.49M117.99 262.49L120.68 259.81" stroke="#EDB120" stroke-width="0.8" fill="none"/><circle cx="121.84" cy="261.15" r="1.1" fill="#EDB120"/><path d="M119.94 261.15L123.74 261.15M121.84 259.25L121.84 263.05M120.50 259.81L123.18 262.49M120.50 262.49L123.18 259.81" stroke="#EDB120" stroke-width="0.8" fill="none"/><circle cx="124.35" cy="261.15" r="1.1" fill="#EDB120"/><path d="M122.45 261.15L126.25 261.15M124.35 259.25L124.35 263.05M123.00 259.81L125.69 262.49M123.00 262.49L125.69 259.81" stroke="#EDB120" stroke-width="0.8" fill="none"/><circle cx="126.85" cy="261.15" r="1.1" fill="#EDB120"/><path d="M124.95 261.15L128.75 261.15M126.85 259.25L126.85 263.05M125.51 259.81L128.19 262.49M125.51 262.49L128.19 259.81" stroke="#EDB120" stroke-width="0.8" fill="none"/><circle cx="129.36" cy="261.15" r="1.1" fill="#EDB120"/><path d="M127.46 261.15L131.26 261.15M129.36 259.25L129.36 263.05M128.01 259.81L130.70 262.49M128.01 262.49L130.70 259.81" stroke="#EDB120" stroke-width="0.8" fill="none"/><circle cx="131.86" cy="261.15" r="1.1" fill="#EDB120"/><path d="M129.96 261.15L133.76 261.15M131.86 259.25L131.86 263.05M130.52 259.81L133.21 262.49M130.52 262.49L133.21 259.81" stroke="#EDB120" stroke-width="0.8" fill="none"/><circle cx="134.37" cy="261.15" r="1.1" fill="#EDB120"/><path d="M132.47 261.15L136.27 261.15M134.37 259.25L134.37 263.05M133.03 259.81L135.71 262.49M133.03 262.49L135.71 259.81" stroke="#EDB120" stroke-width="0.8" fill="none"/><circle cx="136.87" cy="261.15" r="1.1" fill="#EDB120"/><path d="M134.97 261.15L138.77 261.15M136.87 259.25L136.87 263.05M135.53 259.81L138.22 262.49M135.53 262.49L138.22 259.81" stroke="#EDB120" stroke-width="0.8" fill="none"/><circle cx="139.38" cy="261.15" r="1.1" fill="#EDB120"/><path d="M137.48 261.15L141.28 261.15M139.38 259.25L139.38 263.05M138.04 259.81L140.72 262.49M138.04 262.49L140.72 259.81" stroke="#EDB120" stroke-width="0.8" fill="none"/><circle cx="141.89" cy="261.15" r="1.1" fill="#EDB120"/><path d="M139.99 261.15L143.79 261.15M141.89 259.25L141.89 263.05M140.54 259.81L143.23 262.49M140.54 262.49L143.23 259.81" stroke="#EDB120" stroke-width="0.8" fill="none"/><circle cx="144.39" cy="261.15" r="1.1" fill="#EDB120"/><path d="M142.49 261.15L146.29 261.15M144.39 259.25L144.39 263.05M143.05 259.81L145.73 262.49M143.05 262.49L145.73 259.81" stroke="#EDB120" stroke-width="0.8" fill="none"/><circle cx="146.90" cy="261.15" r="1.1" fill="#EDB120"/><path d="M145.00 261.15L148.80 261.15M146.90 259.25L146.90 263.05M145.55 259.81L148.24 262.49M145.55 262.49L148.24 259.81" stroke="#EDB120" stroke-width="0.8" fill="none"/><circle cx="149.40" cy="261.15" r="1.1" fill="#EDB120"/><path d="M147.50 261.15L151.30 261.15M149.40 259.25L149.40 263.05M148.06 259.81L150.75 262.49M148.06 262.49L150.75 259.81" stroke="#EDB120" stroke-width="0.8" fill="none"/><circle cx="151.91" cy="261.15" r="1.1" fill="#EDB120"/><path d="M150.01 261.15L153.81 261.15M151.91 259.25L151.91 263.05M150.57 259.81L153.25 262.49M150.57 262.49L153.25 259.81" stroke="#EDB120" stroke-width="0.8" fill="none"/><circle cx="154.41" cy="261.15" r="1.1" fill="#EDB120"/><path d="M152.51 261.15L156.31 261.15M154.41 259.25L154.41 263.05M153.07 259.81L155.76 262.49M153.07 262.49L155.76 259.81" stroke="#EDB120" stroke-width="0.8" fill="none"/><circle cx="156.92" cy="261.15" r="1.1" fill="#EDB120"/><path d="M155.02 261.15L158.82 261.15M156.92 259.25L156.92 263.05M155.58 259.81L158.26 262.49M155.58 262.49L158.26 259.81" stroke="#EDB120" stroke-width="0.8" fill="none"/><circle cx="159.43" cy="261.15" r="1.1" fill="#EDB120"/><path d="M157.53 261.15L161.33 261.15M159.43 259.25L159.43 263.05M158.08 259.81L160.77 262.49M158.08 262.49L160.77 259.81" stroke="#EDB120" stroke-width="0.8" fill="none"/><circle cx="161.93" cy="261.15" r="1.1" fill="#EDB120"/><path d="M160.03 261.15L163.83 261.15M161.93 259.25L161.93 263.05M160.59 259.81L163.28 262.49M160.59 262.49L163.28 259.81" stroke="#EDB120" stroke-width="0.8" fill="none"/><circle cx="164.44" cy="261.15" r="1.1" fill="#EDB120"/><path d="M162.54 261.15L166.34 261.15M164.44 259.25L164.44 263.05M163.09 259.81L165.78 262.49M163.09 262.49L165.78 259.81" stroke="#EDB120" stroke-width="0.8" fill="none"/><circle cx="166.94" cy="261.15" r="1.1" fill="#EDB120"/><path d="M165.04 261.15L168.84 261.15M166.94 259.25L166.94 263.05M165.60 259.81L168.29 262.49M165.60 262.49L168.29 259.81" stroke="#EDB120" stroke-width="0.8" fill="none"/><circle cx="169.45" cy="261.15" r="1.1" fill="#EDB120"/><path d="M167.55 261.15L171.35 261.15M169.45 259.25L169.45 263.05M168.11 259.81L170.79 262.49M168.11 262.49L170.79 259.81" stroke="#EDB120" stroke-width="0.8" fill="none"/><circle cx="171.95" cy="261.15" r="1.1" fill="#EDB120"/><path d="M170.05 261.15L173.85 261.15M171.95 259.25L171.95 263.05M170.61 259.81L173.30 262.49M170.61 262.49L173.30 259.81" stroke="#EDB120" stroke-width="0.8" fill="none"/><circle cx="174.46" cy="261.15" r="1.1" fill="#EDB120"/><path d="M172.56 261.15L176.36 261.15M174.46 259.25L174.46 263.05M173.12 259.81L175.80 262.49M173.12 262.49L175.80 259.81" stroke="#EDB120" stroke-width="0.8" fill="none"/><circle cx="176.97" cy="261.15" r="1.1" fill="#EDB120"/><path d="M175.07 261.15L178.87 261.15M176.97 259.25L176.97 263.05M175.62 259.81L178.31 262.49M175.62 262.49L178.31 259.81" stroke="#EDB120" stroke-width="0.8" fill="none"/><circle cx="179.47" cy="261.15" r="1.1" fill="#EDB120"/><path d="M177.57 261.15L181.37 261.15M179.47 259.25L179.47 263.05M178.13 259.81L180.82 262.49M178.13 262.49L180.82 259.81" stroke="#EDB120" stroke-width="0.8" fill="none"/><circle cx="181.98" cy="261.15" r="1.1" fill="#EDB120"/><path d="M180.08 261.15L183.88 261.15M181.98 259.25L181.98 263.05M180.63 259.81L183.32 262.49M180.63 262.49L183.32 259.81" stroke="#EDB120" stroke-width="0.8" fill="none"/><circle cx="184.48" cy="261.15" r="1.1" fill="#EDB120"/><path d="M182.58 261.15L186.38 261.15M184.48 259.25L184.48 263.05M183.14 259.81L185.83 262.49M183.14 262.49L185.83 259.81" stroke="#EDB120" stroke-width="0.8" fill="none"/><circle cx="186.99" cy="261.15" r="1.1" fill="#EDB120"/><path d="M185.09 261.15L188.89 261.15M186.99 259.25L186.99 263.05M185.65 259.81L188.33 262.49M185.65 262.49L188.33 259.81" stroke="#EDB120" stroke-width="0.8" fill="none"/><circle cx="189.50" cy="261.15" r="1.1" fill="#EDB120"/><path d="M187.59 261.15L191.40 261.15M189.50 259.25L189.50 263.05M188.15 259.81L190.84 262.49M188.15 262.49L190.84 259.81" stroke="#EDB120" stroke-width="0.8" fill="none"/><circle cx="192.00" cy="261.15" r="1.1" fill="#EDB120"/><path d="M190.10 261.15L193.90 261.15M192.00 259.25L192.00 263.05M190.66 259.81L193.34 262.49M190.66 262.49L193.34 259.81" stroke="#EDB120" stroke-width="0.8" fill="none"/><circle cx="194.51" cy="261.15" r="1.1" fill="#EDB120"/><path d="M192.61 261.15L196.41 261.15M194.51 259.25L194.51 263.05M193.16 259.81L195.85 262.49M193.16 262.49L195.85 259.81" stroke="#EDB120" stroke-width="0.8" fill="none"/><circle cx="197.01" cy="261.15" r="1.1" fill="#EDB120"/><path d="M195.11 261.15L198.91 261.15M197.01 259.25L197.01 263.05M195.67 259.81L198.36 262.49M195.67 262.49L198.36 259.81" stroke="#EDB120" stroke-width="0.8" fill="none"/><circle cx="199.52" cy="261.15" r="1.1" fill="#EDB120"/><path d="M197.62 261.15L201.42 261.15M199.52 259.25L199.52 263.05M198.17 259.81L200.86 262.49M198.17 262.49L200.86 259.81" stroke="#EDB120" stroke-width="0.8" fill="none"/><circle cx="202.02" cy="261.15" r="1.1" fill="#EDB120"/><path d="M200.12 261.15L203.92 261.15M202.02 259.25L202.02 263.05M200.68 259.81L203.37 262.49M200.68 262.49L203.37 259.81" stroke="#EDB120" stroke-width="0.8" fill="none"/><circle cx="204.53" cy="261.15" r="1.1" fill="#EDB120"/><path d="M202.63 261.15L206.43 261.15M204.53 259.25L204.53 263.05M203.19 259.81L205.87 262.49M203.19 262.49L205.87 259.81" stroke="#EDB120" stroke-width="0.8" fill="none"/><circle cx="207.04" cy="261.15" r="1.1" fill="#EDB120"/><path d="M205.14 261.15L208.94 261.15M207.04 259.25L207.04 263.05M205.69 259.81L208.38 262.49M205.69 262.49L208.38 259.81" stroke="#EDB120" stroke-width="0.8" fill="none"/><circle cx="209.54" cy="261.15" r="1.1" fill="#EDB120"/><path d="M207.64 261.15L211.44 261.15M209.54 259.25L209.54 263.05M208.20 259.81L210.88 262.49M208.20 262.49L210.88 259.81" stroke="#EDB120" stroke-width="0.8" fill="none"/><circle cx="212.05" cy="261.15" r="1.1" fill="#EDB120"/><path d="M210.15 261.15L213.95 261.15M212.05 259.25L212.05 263.05M210.70 259.81L213.39 262.49M210.70 262.49L213.39 259.81" stroke="#EDB120" stroke-width="0.8" fill="none"/><circle cx="214.55" cy="261.15" r="1.1" fill="#EDB120"/><path d="M212.65 261.15L216.45 261.15M214.55 259.25L214.55 263.05M213.21 259.81L215.90 262.49M213.21 262.49L215.90 259.81" stroke="#EDB120" stroke-width="0.8" fill="none"/><circle cx="217.06" cy="261.15" r="1.1" fill="#EDB120"/><path d="M215.16 261.15L218.96 261.15M217.06 259.25L217.06 263.05M215.71 259.80L218.40 262.49M215.71 262.49L218.40 259.80" stroke="#EDB120" stroke-width="0.8" fill="none"/><circle cx="219.56" cy="261.15" r="1.1" fill="#EDB120"/><path d="M217.66 261.15L221.46 261.15M219.56 259.25L219.56 263.05M218.22 259.80L220.91 262.49M218.22 262.49L220.91 259.80" stroke="#EDB120" stroke-width="0.8" fill="none"/><circle cx="222.07" cy="261.15" r="1.1" fill="#EDB120"/><path d="M220.17 261.15L223.97 261.15M222.07 259.25L222.07 263.05M220.73 259.80L223.41 262.49M220.73 262.49L223.41 259.80" stroke="#EDB120" stroke-width="0.8" fill="none"/><circle cx="224.58" cy="261.14" r="1.1" fill="#EDB120"/><path d="M222.68 261.14L226.48 261.14M224.58 259.24L224.58 263.04M223.23 259.80L225.92 262.49M223.23 262.49L225.92 259.80" stroke="#EDB120" stroke-width="0.8" fill="none"/><circle cx="227.08" cy="261.14" r="1.1" fill="#EDB120"/><path d="M225.18 261.14L228.98 261.14M227.08 259.24L227.08 263.04M225.74 259.80L228.42 262.48M225.74 262.48L228.42 259.80" stroke="#EDB120" stroke-width="0.8" fill="none"/><circle cx="229.59" cy="261.13" r="1.1" fill="#EDB120"/><path d="M227.69 261.13L231.49 261.13M229.59 259.23L229.59 263.03M228.24 259.79L230.93 262.48M228.24 262.48L230.93 259.79" stroke="#EDB120" stroke-width="0.8" fill="none"/><circle cx="232.09" cy="261.13" r="1.1" fill="#EDB120"/><path d="M230.19 261.13L233.99 261.13M232.09 259.23L232.09 263.03M230.75 259.78L233.44 262.47M230.75 262.47L233.44 259.78" stroke="#EDB120" stroke-width="0.8" fill="none"/><circle cx="234.60" cy="261.11" r="1.1" fill="#EDB120"/><path d="M232.70 261.11L236.50 261.11M234.60 259.21L234.60 263.01M233.26 259.77L235.94 262.46M233.26 262.46L235.94 259.77" stroke="#EDB120" stroke-width="0.8" fill="none"/><circle cx="237.10" cy="261.09" r="1.1" fill="#EDB120"/><path d="M235.20 261.09L239.00 261.09M237.10 259.19L237.10 262.99M235.76 259.75L238.45 262.44M235.76 262.44L238.45 259.75" stroke="#EDB120" stroke-width="0.8" fill="none"/><circle cx="239.61" cy="261.07" r="1.1" fill="#EDB120"/><path d="M237.71 261.07L241.51 261.07M239.61 259.17L239.61 262.97M238.27 259.72L240.95 262.41M238.27 262.41L240.95 259.72" stroke="#EDB120" stroke-width="0.8" fill="none"/><circle cx="242.12" cy="261.03" r="1.1" fill="#EDB120"/><path d="M240.22 261.03L244.02 261.03M242.12 259.13L242.12 262.93M240.77 259.68L243.46 262.37M240.77 262.37L243.46 259.68" stroke="#EDB120" stroke-width="0.8" fill="none"/><circle cx="244.62" cy="260.97" r="1.1" fill="#EDB120"/><path d="M242.72 260.97L246.52 260.97M244.62 259.07L244.62 262.87M243.28 259.62L245.96 262.31M243.28 262.31L245.96 259.62" stroke="#EDB120" stroke-width="0.8" fill="none"/><circle cx="247.13" cy="260.88" r="1.1" fill="#EDB120"/><path d="M245.23 260.88L249.03 260.88M247.13 258.98L247.13 262.78M245.78 259.54L248.47 262.23M245.78 262.23L248.47 259.54" stroke="#EDB120" stroke-width="0.8" fill="none"/><circle cx="249.63" cy="260.77" r="1.1" fill="#EDB120"/><path d="M247.73 260.77L251.53 260.77M249.63 258.87L249.63 262.67M248.29 259.42L250.98 262.11M248.29 262.11L250.98 259.42" stroke="#EDB120" stroke-width="0.8" fill="none"/><circle cx="252.14" cy="260.60" r="1.1" fill="#EDB120"/><path d="M250.24 260.60L254.04 260.60M252.14 258.70L252.14 262.50M250.80 259.26L253.48 261.95M250.80 261.95L253.48 259.26" stroke="#EDB120" stroke-width="0.8" fill="none"/><circle cx="254.64" cy="260.38" r="1.1" fill="#EDB120"/><path d="M252.74 260.38L256.54 260.38M254.64 258.48L254.64 262.28M253.30 259.03L255.99 261.72M253.30 261.72L255.99 259.03" stroke="#EDB120" stroke-width="0.8" fill="none"/><circle cx="257.15" cy="260.07" r="1.1" fill="#EDB120"/><path d="M255.25 260.07L259.05 260.07M257.15 258.17L257.15 261.97M255.81 258.73L258.49 261.41M255.81 261.41L258.49 258.73" stroke="#EDB120" stroke-width="0.8" fill="none"/><circle cx="259.66" cy="259.65" r="1.1" fill="#EDB120"/><path d="M257.76 259.65L261.56 259.65M259.66 257.75L259.66 261.55M258.31 258.31L261.00 261.00M258.31 261.00L261.00 258.31" stroke="#EDB120" stroke-width="0.8" fill="none"/><circle cx="262.16" cy="259.10" r="1.1" fill="#EDB120"/><path d="M260.26 259.10L264.06 259.10M262.16 257.20L262.16 261.00M260.82 257.76L263.51 260.44M260.82 260.44L263.51 257.76" stroke="#EDB120" stroke-width="0.8" fill="none"/><circle cx="264.67" cy="258.37" r="1.1" fill="#EDB120"/><path d="M262.77 258.37L266.57 258.37M264.67 256.47L264.67 260.27M263.32 257.03L266.01 259.71M263.32 259.71L266.01 257.03" stroke="#EDB120" stroke-width="0.8" fill="none"/><circle cx="267.17" cy="257.42" r="1.1" fill="#EDB120"/><path d="M265.27 257.42L269.07 257.42M267.17 255.52L267.17 259.32M265.83 256.07L268.52 258.76M265.83 258.76L268.52 256.07" stroke="#EDB120" stroke-width="0.8" fill="none"/><circle cx="269.68" cy="256.18" r="1.1" fill="#EDB120"/><path d="M267.78 256.18L271.58 256.18M269.68 254.28L269.68 258.08M268.34 254.84L271.02 257.53M268.34 257.53L271.02 254.84" stroke="#EDB120" stroke-width="0.8" fill="none"/><circle cx="272.18" cy="254.61" r="1.1" fill="#EDB120"/><path d="M270.28 254.61L274.08 254.61M272.18 252.71L272.18 256.51M270.84 253.27L273.53 255.96M270.84 255.96L273.53 253.27" stroke="#EDB120" stroke-width="0.8" fill="none"/><circle cx="274.69" cy="252.63" r="1.1" fill="#EDB120"/><path d="M272.79 252.63L276.59 252.63M274.69 250.73L274.69 254.53M273.35 251.28L276.03 253.97M273.35 253.97L276.03 251.28" stroke="#EDB120" stroke-width="0.8" fill="none"/><circle cx="277.20" cy="250.15" r="1.1" fill="#EDB120"/><path d="M275.30 250.15L279.10 250.15M277.20 248.25L277.20 252.05M275.85 248.81L278.54 251.50M275.85 251.50L278.54 248.81" stroke="#EDB120" stroke-width="0.8" fill="none"/><circle cx="279.70" cy="247.10" r="1.1" fill="#EDB120"/><path d="M277.80 247.10L281.60 247.10M279.70 245.20L279.70 249.00M278.36 245.76L281.05 248.44M278.36 248.44L281.05 245.76" stroke="#EDB120" stroke-width="0.8" fill="none"/><circle cx="282.21" cy="243.38" r="1.1" fill="#EDB120"/><path d="M280.31 243.38L284.11 243.38M282.21 241.48L282.21 245.28M280.86 242.03L283.55 244.72M280.86 244.72L283.55 242.03" stroke="#EDB120" stroke-width="0.8" fill="none"/><circle cx="284.71" cy="238.89" r="1.1" fill="#EDB120"/><path d="M282.81 238.89L286.61 238.89M284.71 236.99L284.71 240.79M283.37 237.55L286.06 240.24M283.37 240.24L286.06 237.55" stroke="#EDB120" stroke-width="0.8" fill="none"/><circle cx="287.22" cy="233.55" r="1.1" fill="#EDB120"/><path d="M285.32 233.55L289.12 233.55M287.22 231.65L287.22 235.45M285.88 232.21L288.56 234.90M285.88 234.90L288.56 232.21" stroke="#EDB120" stroke-width="0.8" fill="none"/><circle cx="289.72" cy="227.28" r="1.1" fill="#EDB120"/><path d="M287.82 227.28L291.62 227.28M289.72 225.38L289.72 229.18M288.38 225.93L291.07 228.62M288.38 228.62L291.07 225.93" stroke="#EDB120" stroke-width="0.8" fill="none"/><circle cx="292.23" cy="219.98" r="1.1" fill="#EDB120"/><path d="M290.33 219.98L294.13 219.98M292.23 218.08L292.23 221.88M290.89 218.64L293.57 221.33M290.89 221.33L293.57 218.64" stroke="#EDB120" stroke-width="0.8" fill="none"/><circle cx="294.74" cy="211.62" r="1.1" fill="#EDB120"/><path d="M292.84 211.62L296.64 211.62M294.74 209.72L294.74 213.52M293.39 210.27L296.08 212.96M293.39 212.96L296.08 210.27" stroke="#EDB120" stroke-width="0.8" fill="none"/><circle cx="297.24" cy="202.14" r="1.1" fill="#EDB120"/><path d="M295.34 202.14L299.14 202.14M297.24 200.24L297.24 204.04M295.90 200.80L298.59 203.49M295.90 203.49L298.59 200.80" stroke="#EDB120" stroke-width="0.8" fill="none"/><circle cx="299.75" cy="191.56" r="1.1" fill="#EDB120"/><path d="M297.85 191.56L301.65 191.56M299.75 189.66L299.75 193.46M298.40 190.21L301.09 192.90M298.40 192.90L301.09 190.21" stroke="#EDB120" stroke-width="0.8" fill="none"/><circle cx="302.25" cy="179.89" r="1.1" fill="#EDB120"/><path d="M300.35 179.89L304.15 179.89M302.25 177.99L302.25 181.79M300.91 178.55L303.60 181.23M300.91 181.23L303.60 178.55" stroke="#EDB120" stroke-width="0.8" fill="none"/><circle cx="304.76" cy="167.21" r="1.1" fill="#EDB120"/><path d="M302.86 167.21L306.66 167.21M304.76 165.31L304.76 169.11M303.42 165.87L306.10 168.55M303.42 168.55L306.10 165.87" stroke="#EDB120" stroke-width="0.8" fill="none"/><circle cx="307.27" cy="153.63" r="1.1" fill="#EDB120"/><path d="M305.37 153.63L309.17 153.63M307.27 151.73L307.27 155.53M305.92 152.29L308.61 154.98M305.92 154.98L308.61 152.29" stroke="#EDB120" stroke-width="0.8" fill="none"/><circle cx="309.77" cy="139.32" r="1.1" fill="#EDB120"/><path d="M307.87 139.32L311.67 139.32M309.77 137.42L309.77 141.22M308.43 137.97L311.11 140.66M308.43 140.66L311.11 137.97" stroke="#EDB120" stroke-width="0.8" fill="none"/><circle cx="312.28" cy="124.47" r="1.1" fill="#EDB120"/><path d="M310.38 124.47L314.18 124.47M312.28 122.57L312.28 126.37M310.93 123.12L313.62 125.81M310.93 125.81L313.62 123.12" stroke="#EDB120" stroke-width="0.8" fill="none"/><circle cx="314.78" cy="109.34" r="1.1" fill="#EDB120"/><path d="M312.88 109.34L316.68 109.34M314.78 107.44L314.78 111.24M313.44 107.99L316.13 110.68M313.44 110.68L316.13 107.99" stroke="#EDB120" stroke-width="0.8" fill="none"/><circle cx="317.29" cy="94.21" r="1.1" fill="#EDB120"/><path d="M315.39 94.21L319.19 94.21M317.29 92.31L317.29 96.11M315.94 92.86L318.63 95.55M315.94 95.55L318.63 92.86" stroke="#EDB120" stroke-width="0.8" fill="none"/><circle cx="319.79" cy="79.39" r="1.1" fill="#EDB120"/><path d="M317.89 79.39L321.69 79.39M319.79 77.49L319.79 81.29M318.45 78.05L321.14 80.74M318.45 80.74L321.14 78.05" stroke="#EDB120" stroke-width="0.8" fill="none"/><circle cx="322.30" cy="65.24" r="1.1" fill="#EDB120"/><path d="M320.40 65.24L324.20 65.24M322.30 63.34L322.30 67.14M320.96 63.90L323.64 66.58M320.96 66.58L323.64 63.90" stroke="#EDB120" stroke-width="0.8" fill="none"/><circle cx="324.81" cy="52.08" r="1.1" fill="#EDB120"/><path d="M322.91 52.08L326.71 52.08M324.81 50.18L324.81 53.98M323.46 50.74L326.15 53.43M323.46 53.43L326.15 50.74" stroke="#EDB120" stroke-width="0.8" fill="none"/><circle cx="327.31" cy="40.26" r="1.1" fill="#EDB120"/><path d="M325.41 40.26L329.21 40.26M327.31 38.36L327.31 42.16M325.97 38.92L328.65 41.60M325.97 41.60L328.65 38.92" stroke="#EDB120" stroke-width="0.8" fill="none"/><circle cx="329.82" cy="30.09" r="1.1" fill="#EDB120"/><path d="M327.92 30.09L331.72 30.09M329.82 28.19L329.82 31.99M328.47 28.75L331.16 31.44M328.47 31.44L331.16 28.75" stroke="#EDB120" stroke-width="0.8" fill="none"/><circle cx="332.32" cy="21.86" r="1.1" fill="#EDB120"/><path d="M330.42 21.86L334.22 21.86M332.32 19.96L332.32 23.76M330.98 20.52L333.67 23.21M330.98 23.21L333.67 20.52" stroke="#EDB120" stroke-width="0.8" fill="none"/><circle cx="334.83" cy="15.81" r="1.1" fill="#EDB120"/><path d="M332.93 15.81L336.73 15.81M334.83 13.91L334.83 17.71M333.49 14.46L336.17 17.15M333.49 17.15L336.17 14.46" stroke="#EDB120" stroke-width="0.8" fill="none"/><circle cx="337.33" cy="12.10" r="1.1" fill="#EDB120"/><path d="M335.43 12.10L339.23 12.10M337.33 10.20L337.33 14.00M335.99 10.75L338.68 13.44M335.99 13.44L338.68 10.75" stroke="#EDB120" stroke-width="0.8" fill="none"/><circle cx="339.84" cy="10.85" r="1.1" fill="#EDB120"/><path d="M337.94 10.85L341.74 10.85M339.84 8.95L339.84 12.75M338.50 9.51L341.18 12.19M338.50 12.19L341.18 9.51" stroke="#EDB120" stroke-width="0.8" fill="none"/><circle cx="342.35" cy="12.10" r="1.1" fill="#EDB120"/><path d="M340.45 12.10L344.25 12.10M342.35 10.20L342.35 14.00M341.00 10.75L343.69 13.44M341.00 13.44L343.69 10.75" stroke="#EDB120" stroke-width="0.8" fill="none"/><circle cx="344.85" cy="15.81" r="1.1" fill="#EDB120"/><path d="M342.95 15.81L346.75 15.81M344.85 13.91L344.85 17.71M343.51 14.46L346.19 17.15M343.51 17.15L346.19 14.46" stroke="#EDB120" stroke-width="0.8" fill="none"/><circle cx="347.36" cy="21.86" r="1.1" fill="#EDB120"/><path d="M345.46 21.86L349.26 21.86M347.36 19.96L347.36 23.76M346.01 20.52L348.70 23.21M346.01 23.21L348.70 20.52" stroke="#EDB120" stroke-width="0.8" fill="none"/><circle cx="349.86" cy="30.09" r="1.1" fill="#EDB120"/><path d="M347.96 30.09L351.76 30.09M349.86 28.19L349.86 31.99M348.52 28.75L351.21 31.44M348.52 31.44L351.21 28.75" stroke="#EDB120" stroke-width="0.8" fill="none"/><circle cx="352.37" cy="40.26" r="1.1" fill="#EDB120"/><path d="M350.47 40.26L354.27 40.26M352.37 38.36L352.37 42.16M351.03 38.92L353.71 41.60M351.03 41.60L353.71 38.92" stroke="#EDB120" stroke-width="0.8" fill="none"/><circle cx="354.87" cy="52.08" r="1.1" fill="#EDB120"/><path d="M352.97 52.08L356.77 52.08M354.87 50.18L354.87 53.98M353.53 50.74L356.22 53.43M353.53 53.43L356.22 50.74" stroke="#EDB120" stroke-width="0.8" fill="none"/><circle cx="357.38" cy="65.24" r="1.1" fill="#EDB120"/><path d="M355.48 65.24L359.28 65.24M357.38 63.34L357.38 67.14M356.04 63.90L358.72 66.58M356.04 66.58L358.72 63.90" stroke="#EDB120" stroke-width="0.8" fill="none"/><circle cx="359.89" cy="79.39" r="1.1" fill="#EDB120"/><path d="M357.99 79.39L361.79 79.39M359.89 77.49L359.89 81.29M358.54 78.05L361.23 80.74M358.54 80.74L361.23 78.05" stroke="#EDB120" stroke-width="0.8" fill="none"/><circle cx="362.39" cy="94.21" r="1.1" fill="#EDB120"/><path d="M360.49 94.21L364.29 94.21M362.39 92.31L362.39 96.11M361.05 92.86L363.74 95.55M361.05 95.55L363.74 92.86" stroke="#EDB120" stroke-width="0.8" fill="none"/><circle cx="364.90" cy="109.34" r="1.1" fill="#EDB120"/><path d="M363.00 109.34L366.80 109.34M364.90 107.44L364.90 111.24M363.55 107.99L366.24 110.68M363.55 110.68L366.24 107.99" stroke="#EDB120" stroke-width="0.8" fill="none"/><circle cx="367.40" cy="124.47" r="1.1" fill="#EDB120"/><path d="M365.50 124.47L369.30 124.47M367.40 122.57L367.40 126.37M366.06 123.12L368.75 125.81M366.06 125.81L368.75 123.12" stroke="#EDB120" stroke-width="0.8" fill="none"/><circle cx="369.91" cy="139.32" r="1.1" fill="#EDB120"/><path d="M368.01 139.32L371.81 139.32M369.91 137.42L369.91 141.22M368.57 137.97L371.25 140.66M368.57 140.66L371.25 137.97" stroke="#EDB120" stroke-width="0.8" fill="none"/><circle cx="372.41" cy="153.63" r="1.1" fill="#EDB120"/><path d="M370.51 153.63L374.31 153.63M372.41 151.73L372.41 155.53M371.07 152.29L373.76 154.98M371.07 154.98L373.76 152.29" stroke="#EDB120" stroke-width="0.8" fill="none"/><circle cx="374.92" cy="167.21" r="1.1" fill="#EDB120"/><path d="M373.02 167.21L376.82 167.21M374.92 165.31L374.92 169.11M373.58 165.87L376.26 168.55M373.58 168.55L376.26 165.87" stroke="#EDB120" stroke-width="0.8" fill="none"/><circle cx="377.43" cy="179.89" r="1.1" fill="#EDB120"/><path d="M375.53 179.89L379.33 179.89M377.43 177.99L377.43 181.79M376.08 178.55L378.77 181.23M376.08 181.23L378.77 178.55" stroke="#EDB120" stroke-width="0.8" fill="none"/><circle cx="379.93" cy="191.56" r="1.1" fill="#EDB120"/><path d="M378.03 191.56L381.83 191.56M379.93 189.66L379.93 193.46M378.59 190.21L381.28 192.90M378.59 192.90L381.28 190.21" stroke="#EDB120" stroke-width="0.8" fill="none"/><circle cx="382.44" cy="202.14" r="1.1" fill="#EDB120"/><path d="M380.54 202.14L384.34 202.14M382.44 200.24L382.44 204.04M381.09 200.80L383.78 203.49M381.09 203.49L383.78 200.80" stroke="#EDB120" stroke-width="0.8" fill="none"/><circle cx="384.94" cy="211.62" r="1.1" fill="#EDB120"/><path d="M383.04 211.62L386.84 211.62M384.94 209.72L384.94 213.52M383.60 210.27L386.29 212.96M383.60 212.96L386.29 210.27" stroke="#EDB120" stroke-width="0.8" fill="none"/><circle cx="387.45" cy="219.98" r="1.1" fill="#EDB120"/><path d="M385.55 219.98L389.35 219.98M387.45 218.08L387.45 221.88M386.11 218.64L388.79 221.33M386.11 221.33L388.79 218.64" stroke="#EDB120" stroke-width="0.8" fill="none"/><circle cx="389.95" cy="227.28" r="1.1" fill="#EDB120"/><path d="M388.06 227.28L391.85 227.28M389.95 225.38L389.95 229.18M388.61 225.93L391.30 228.62M388.61 228.62L391.30 225.93" stroke="#EDB120" stroke-width="0.8" fill="none"/><circle cx="392.46" cy="233.55" r="1.1" fill="#EDB120"/><path d="M390.56 233.55L394.36 233.55M392.46 231.65L392.46 235.45M391.12 232.21L393.80 234.90M391.12 234.90L393.80 232.21" stroke="#EDB120" stroke-width="0.8" fill="none"/><circle cx="394.97" cy="238.89" r="1.1" fill="#EDB120"/><path d="M393.07 238.89L396.87 238.89M394.97 236.99L394.97 240.79M393.62 237.55L396.31 240.24M393.62 240.24L396.31 237.55" stroke="#EDB120" stroke-width="0.8" fill="none"/><circle cx="397.47" cy="243.38" r="1.1" fill="#EDB120"/><path d="M395.57 243.38L399.37 243.38M397.47 241.48L397.47 245.28M396.13 242.03L398.82 244.72M396.13 244.72L398.82 242.03" stroke="#EDB120" stroke-width="0.8" fill="none"/><circle cx="399.98" cy="247.10" r="1.1" fill="#EDB120"/><path d="M398.08 247.10L401.88 247.10M399.98 245.20L399.98 249.00M398.63 245.76L401.32 248.44M398.63 248.44L401.32 245.76" stroke="#EDB120" stroke-width="0.8" fill="none"/><circle cx="402.48" cy="250.15" r="1.1" fill="#EDB120"/><path d="M400.58 250.15L404.38 250.15M402.48 248.25L402.48 252.05M401.14 248.81L403.83 251.50M401.14 251.50L403.83 248.81" stroke="#EDB120" stroke-width="0.8" fill="none"/><circle cx="404.99" cy="252.63" r="1.1" fill="#EDB120"/><path d="M403.09 252.63L406.89 252.63M404.99 250.73L404.99 254.53M403.65 251.28L406.33 253.97M403.65 253.97L406.33 251.28" stroke="#EDB120" stroke-width="0.8" fill="none"/><circle cx="407.50" cy="254.61" r="1.1" fill="#EDB120"/><path d="M405.60 254.61L409.40 254.61M407.50 252.71L407.50 256.51M406.15 253.27L408.84 255.96M406.15 255.96L408.84 253.27" stroke="#EDB120" stroke-width="0.8" fill="none"/><circle cx="410.00" cy="256.18" r="1.1" fill="#EDB120"/><path d="M408.10 256.18L411.90 256.18M410.00 254.28L410.00 258.08M408.66 254.84L411.34 257.53M408.66 257.53L411.34 254.84" stroke="#EDB120" stroke-width="0.8" fill="none"/><circle cx="412.51" cy="257.42" r="1.1" fill="#EDB120"/><path d="M410.61 257.42L414.41 257.42M412.51 255.52L412.51 259.32M411.16 256.07L413.85 258.76M411.16 258.76L413.85 256.07" stroke="#EDB120" stroke-width="0.8" fill="none"/><circle cx="415.01" cy="258.37" r="1.1" fill="#EDB120"/><path d="M413.11 258.37L416.91 258.37M415.01 256.47L415.01 260.27M413.67 257.03L416.36 259.71M413.67 259.71L416.36 257.03" stroke="#EDB120" stroke-width="0.8" fill="none"/><circle cx="417.52" cy="259.10" r="1.1" fill="#EDB120"/><path d="M415.62 259.10L419.42 259.10M417.52 257.20L417.52 261.00M416.17 257.76L418.86 260.44M416.17 260.44L418.86 257.76" stroke="#EDB120" stroke-width="0.8" fill="none"/><circle cx="420.02" cy="259.65" r="1.1" fill="#EDB120"/><path d="M418.12 259.65L421.92 259.65M420.02 257.75L420.02 261.55M418.68 258.31L421.37 261.00M418.68 261.00L421.37 258.31" stroke="#EDB120" stroke-width="0.8" fill="none"/><circle cx="422.53" cy="260.07" r="1.1" fill="#EDB120"/><path d="M420.63 260.07L424.43 260.07M422.53 258.17L422.53 261.97M421.19 258.73L423.87 261.41M421.19 261.41L423.87 258.73" stroke="#EDB120" stroke-width="0.8" fill="none"/><circle cx="425.04" cy="260.38" r="1.1" fill="#EDB120"/><path d="M423.14 260.38L426.94 260.38M425.04 258.48L425.04 262.28M423.69 259.03L426.38 261.72M423.69 261.72L426.38 259.03" stroke="#EDB120" stroke-width="0.8" fill="none"/><circle cx="427.54" cy="260.60" r="1.1" fill="#EDB120"/><path d="M425.64 260.60L429.44 260.60M427.54 258.70L427.54 262.50M426.20 259.26L428.88 261.95M426.20 261.95L428.88 259.26" stroke="#EDB120" stroke-width="0.8" fill="none"/><circle cx="430.05" cy="260.77" r="1.1" fill="#EDB120"/><path d="M428.15 260.77L431.95 260.77M430.05 258.87L430.05 262.67M428.70 259.42L431.39 262.11M428.70 262.11L431.39 259.42" stroke="#EDB120" stroke-width="0.8" fill="none"/><circle cx="432.55" cy="260.88" r="1.1" fill="#EDB120"/><path d="M430.65 260.88L434.45 260.88M432.55 258.98L432.55 262.78M431.21 259.54L433.90 262.23M431.21 262.23L433.90 259.54" stroke="#EDB120" stroke-width="0.8" fill="none"/><circle cx="435.06" cy="260.97" r="1.1" fill="#EDB120"/><path d="M433.16 260.97L436.96 260.97M435.06 259.07L435.06 262.87M433.72 259.62L436.40 262.31M433.72 262.31L436.40 259.62" stroke="#EDB120" stroke-width="0.8" fill="none"/><circle cx="437.56" cy="261.03" r="1.1" fill="#EDB120"/><path d="M435.66 261.03L439.46 261.03M437.56 259.13L437.56 262.93M436.22 259.68L438.91 262.37M436.22 262.37L438.91 259.68" stroke="#EDB120" stroke-width="0.8" fill="none"/><circle cx="440.07" cy="261.07" r="1.1" fill="#EDB120"/><path d="M438.17 261.07L441.97 261.07M440.07 259.17L440.07 262.97M438.73 259.72L441.41 262.41M438.73 262.41L441.41 259.72" stroke="#EDB120" stroke-width="0.8" fill="none"/><circle cx="442.58" cy="261.09" r="1.1" fill="#EDB120"/><path d="M440.68 261.09L444.48 261.09M442.58 259.19L442.58 262.99M441.23 259.75L443.92 262.44M441.23 262.44L443.92 259.75" stroke="#EDB120" stroke-width="0.8" fill="none"/><circle cx="445.08" cy="261.11" r="1.1" fill="#EDB120"/><path d="M443.18 261.11L446.98 261.11M445.08 259.21L445.08 263.01M443.74 259.77L446.42 262.46M443.74 262.46L446.42 259.77" stroke="#EDB120" stroke-width="0.8" fill="none"/><circle cx="447.59" cy="261.13" r="1.1" fill="#EDB120"/><path d="M445.69 261.13L449.49 261.13M447.59 259.23L447.59 263.03M446.24 259.78L448.93 262.47M446.24 262.47L448.93 259.78" stroke="#EDB120" stroke-width="0.8" fill="none"/><circle cx="450.09" cy="261.13" r="1.1" fill="#EDB120"/><path d="M448.19 261.13L451.99 261.13M450.09 259.23L450.09 263.03M448.75 259.79L451.44 262.48M448.75 262.48L451.44 259.79" stroke="#EDB120" stroke-width="0.8" fill="none"/><circle cx="452.60" cy="261.14" r="1.1" fill="#EDB120"/><path d="M450.70 261.14L454.50 261.14M452.60 259.24L452.60 263.04M451.26 259.80L453.94 262.48M451.26 262.48L453.94 259.80" stroke="#EDB120" stroke-width="0.8" fill="none"/><circle cx="455.10" cy="261.14" r="1.1" fill="#EDB120"/><path d="M453.20 261.14L457.00 261.14M455.10 259.24L455.10 263.04M453.76 259.80L456.45 262.49M453.76 262.49L456.45 259.80" stroke="#EDB120" stroke-width="0.8" fill="none"/><circle cx="457.61" cy="261.15" r="1.1" fill="#EDB120"/><path d="M455.71 261.15L459.51 261.15M457.61 259.25L457.61 263.05M456.27 259.80L458.95 262.49M456.27 262.49L458.95 259.80" stroke="#EDB120" stroke-width="0.8" fill="none"/><circle cx="460.12" cy="261.15" r="1.1" fill="#EDB120"/><path d="M458.22 261.15L462.02 261.15M460.12 259.25L460.12 263.05M458.77 259.80L461.46 262.49M458.77 262.49L461.46 259.80" stroke="#EDB120" stroke-width="0.8" fill="none"/><circle cx="462.62" cy="261.15" r="1.1" fill="#EDB120"/><path d="M460.72 261.15L464.52 261.15M462.62 259.25L462.62 263.05M461.28 259.80L463.97 262.49M461.28 262.49L463.97 259.80" stroke="#EDB120" stroke-width="0.8" fill="none"/><circle cx="465.13" cy="261.15" r="1.1" fill="#EDB120"/><path d="M463.23 261.15L467.03 261.15M465.13 259.25L465.13 263.05M463.78 259.81L466.47 262.49M463.78 262.49L466.47 259.81" stroke="#EDB120" stroke-width="0.8" fill="none"/><circle cx="467.63" cy="261.15" r="1.1" fill="#EDB120"/><path d="M465.73 261.15L469.53 261.15M467.63 259.25L467.63 263.05M466.29 259.81L468.98 262.49M466.29 262.49L468.98 259.81" stroke="#EDB120" stroke-width="0.8" fill="none"/><circle cx="470.14" cy="261.15" r="1.1" fill="#EDB120"/><path d="M468.24 261.15L472.04 261.15M470.14 259.25L470.14 263.05M468.80 259.81L471.48 262.49M468.80 262.49L471.48 259.81" stroke="#EDB120" stroke-width="0.8" fill="none"/><circle cx="472.64" cy="261.15" r="1.1" fill="#EDB120"/><path d="M470.74 261.15L474.54 261.15M472.64 259.25L472.64 263.05M471.30 259.81L473.99 262.49M471.30 262.49L473.99 259.81" stroke="#EDB120" stroke-width="0.8" fill="none"/><circle cx="475.15" cy="261.15" r="1.1" fill="#EDB120"/><path d="M473.25 261.15L477.05 261.15M475.15 259.25L475.15 263.05M473.81 259.81L476.49 262.49M473.81 262.49L476.49 259.81" stroke="#EDB120" stroke-width="0.8" fill="none"/><circle cx="477.66" cy="261.15" r="1.1" fill="#EDB120"/><path d="M475.76 261.15L479.56 261.15M477.66 259.25L477.66 263.05M476.31 259.81L479.00 262.49M476.31 262.49L479.00 259.81" stroke="#EDB120" stroke-width="0.8" fill="none"/><circle cx="480.16" cy="261.15" r="1.1" fill="#EDB120"/><path d="M478.26 261.15L482.06 261.15M480.16 259.25L480.16 263.05M478.82 259.81L481.51 262.49M478.82 262.49L481.51 259.81" stroke="#EDB120" stroke-width="0.8" fill="none"/><circle cx="482.67" cy="261.15" r="1.1" fill="#EDB120"/><path d="M480.77 261.15L484.57 261.15M482.67 259.25L482.67 263.05M481.32 259.81L484.01 262.49M481.32 262.49L484.01 259.81" stroke="#EDB120" stroke-width="0.8" fill="none"/><circle cx="485.17" cy="261.15" r="1.1" fill="#EDB120"/><path d="M483.27 261.15L487.07 261.15M485.17 259.25L485.17 263.05M483.83 259.81L486.52 262.49M483.83 262.49L486.52 259.81" stroke="#EDB120" stroke-width="0.8" fill="none"/><circle cx="487.68" cy="261.15" r="1.1" fill="#EDB120"/><path d="M485.78 261.15L489.58 261.15M487.68 259.25L487.68 263.05M486.34 259.81L489.02 262.49M486.34 262.49L489.02 259.81" stroke="#EDB120" stroke-width="0.8" fill="none"/><circle cx="490.18" cy="261.15" r="1.1" fill="#EDB120"/><path d="M488.28 261.15L492.08 261.15M490.18 259.25L490.18 263.05M488.84 259.81L491.53 262.49M488.84 262.49L491.53 259.81" stroke="#EDB120" stroke-width="0.8" fill="none"/><circle cx="492.69" cy="261.15" r="1.1" fill="#EDB120"/><path d="M490.79 261.15L494.59 261.15M492.69 259.25L492.69 263.05M491.35 259.81L494.03 262.49M491.35 262.49L494.03 259.81" stroke="#EDB120" stroke-width="0.8" fill="none"/><circle cx="495.20" cy="261.15" r="1.1" fill="#EDB120"/><path d="M493.30 261.15L497.10 261.15M495.20 259.25L495.20 263.05M493.85 259.81L496.54 262.49M493.85 262.49L496.54 259.81" stroke="#EDB120" stroke-width="0.8" fill="none"/><circle cx="497.70" cy="261.15" r="1.1" fill="#EDB120"/><path d="M495.80 261.15L499.60 261.15M497.70 259.25L497.70 263.05M496.36 259.81L499.05 262.49M496.36 262.49L499.05 259.81" stroke="#EDB120" stroke-width="0.8" fill="none"/><circle cx="500.21" cy="261.15" r="1.1" fill="#EDB120"/><path d="M498.31 261.15L502.11 261.15M500.21 259.25L500.21 263.05M498.86 259.81L501.55 262.49M498.86 262.49L501.55 259.81" stroke="#EDB120" stroke-width="0.8" fill="none"/><circle cx="502.71" cy="261.15" r="1.1" fill="#EDB120"/><path d="M500.81 261.15L504.61 261.15M502.71 259.25L502.71 263.05M501.37 259.81L504.06 262.49M501.37 262.49L504.06 259.81" stroke="#EDB120" stroke-width="0.8" fill="none"/><circle cx="505.22" cy="261.15" r="1.1" fill="#EDB120"/><path d="M503.32 261.15L507.12 261.15M505.22 259.25L505.22 263.05M503.88 259.81L506.56 262.49M503.88 262.49L506.56 259.81" stroke="#EDB120" stroke-width="0.8" fill="none"/><circle cx="507.73" cy="261.15" r="1.1" fill="#EDB120"/><path d="M505.83 261.15L509.63 261.15M507.73 259.25L507.73 263.05M506.38 259.81L509.07 262.49M506.38 262.49L509.07 259.81" stroke="#EDB120" stroke-width="0.8" fill="none"/><circle cx="510.23" cy="261.15" r="1.1" fill="#EDB120"/><path d="M508.33 261.15L512.13 261.15M510.23 259.25L510.23 263.05M508.89 259.81L511.57 262.49M508.89 262.49L511.57 259.81" stroke="#EDB120" stroke-width="0.8" fill="none"/><circle cx="512.74" cy="261.15" r="1.1" fill="#EDB120"/><path d="M510.84 261.15L514.64 261.15M512.74 259.25L512.74 263.05M511.39 259.81L514.08 262.49M511.39 262.49L514.08 259.81" stroke="#EDB120" stroke-width="0.8" fill="none"/><circle cx="515.24" cy="261.15" r="1.1" fill="#EDB120"/><path d="M513.34 261.15L517.14 261.15M515.24 259.25L515.24 263.05M513.90 259.81L516.59 262.49M513.90 262.49L516.59 259.81" stroke="#EDB120" stroke-width="0.8" fill="none"/><circle cx="517.75" cy="261.15" r="1.1" fill="#EDB120"/><path d="M515.85 261.15L519.65 261.15M517.75 259.25L517.75 263.05M516.40 259.81L519.09 262.49M516.40 262.49L519.09 259.81" stroke="#EDB120" stroke-width="0.8" fill="none"/><circle cx="520.25" cy="261.15" r="1.1" fill="#EDB120"/><path d="M518.35 261.15L522.15 261.15M520.25 259.25L520.25 263.05M518.91 259.81L521.60 262.49M518.91 262.49L521.60 259.81" stroke="#EDB120" stroke-width="0.8" fill="none"/><circle cx="522.76" cy="261.15" r="1.1" fill="#EDB120"/><path d="M520.86 261.15L524.66 261.15M522.76 259.25L522.76 263.05M521.42 259.81L524.10 262.49M521.42 262.49L524.10 259.81" stroke="#EDB120" stroke-width="0.8" fill="none"/><circle cx="525.27" cy="261.15" r="1.1" fill="#EDB120"/><path d="M523.37 261.15L527.17 261.15M525.27 259.25L525.27 263.05M523.92 259.81L526.61 262.49M523.92 262.49L526.61 259.81" stroke="#EDB120" stroke-width="0.8" fill="none"/><circle cx="527.77" cy="261.15" r="1.1" fill="#EDB120"/><path d="M525.87 261.15L529.67 261.15M527.77 259.25L527.77 263.05M526.43 259.81L529.11 262.49M526.43 262.49L529.11 259.81" stroke="#EDB120" stroke-width="0.8" fill="none"/><circle cx="530.28" cy="261.15" r="1.1" fill="#EDB120"/><path d="M528.38 261.15L532.18 261.15M530.28 259.25L530.28 263.05M528.93 259.81L531.62 262.49M528.93 262.49L531.62 259.81" stroke="#EDB120" stroke-width="0.8" fill="none"/><circle cx="532.78" cy="261.15" r="1.1" fill="#EDB120"/><path d="M530.88 261.15L534.68 261.15M532.78 259.25L532.78 263.05M531.44 259.81L534.13 262.49M531.44 262.49L534.13 259.81" stroke="#EDB120" stroke-width="0.8" fill="none"/><circle cx="535.29" cy="261.15" r="1.1" fill="#EDB120"/><path d="M533.39 261.15L537.19 261.15M535.29 259.25L535.29 263.05M533.95 259.81L536.63 262.49M533.95 262.49L536.63 259.81" stroke="#EDB120" stroke-width="0.8" fill="none"/><circle cx="537.79" cy="261.15" r="1.1" fill="#EDB120"/><path d="M535.89 261.15L539.69 261.15M537.79 259.25L537.79 263.05M536.45 259.81L539.14 262.49M536.45 262.49L539.14 259.81" stroke="#EDB120" stroke-width="0.8" fill="none"/><circle cx="540.30" cy="261.15" r="1.1" fill="#EDB120"/><path d="M538.40 261.15L542.20 261.15M540.30 259.25L540.30 263.05M538.96 259.81L541.64 262.49M538.96 262.49L541.64 259.81" stroke="#EDB120" stroke-width="0.8" fill="none"/></g>
<path d="M39.15 261.15L41.66 261.15L44.16 261.15L46.67 261.15L49.17 261.15L51.68 261.15L54.18 261.15L56.69 261.15L59.20 261.15L61.70 261.15L64.21 261.15L66.71 261.15L69.22 261.15L71.72 261.15L74.23 261.15L76.74 261.15L79.24 261.15L81.75 261.15L84.25 261.15L86.76 261.15L89.26 261.15L91.77 261.15L94.28 261.15L96.78 261.15L99.29 261.15L101.79 261.15L104.30 261.15L106.81 261.15L109.31 261.15L111.82 261.15L114.32 261.15L116.83 261.15L119.33 261.15L121.84 261.15L124.35 261.15L126.85 261.15L129.36 261.15L131.86 261.15L134.37 261.15L136.87 261.15L139.38 261.15L141.89 261.15L144.39 261.15L146.90 261.15L149.40 261.15L151.91 261.15L154.41 261.15L156.92 261.15L159.43 261.15L161.93 261.15L164.44 261.15L166.94 261.15L169.45 261.15L171.95 261.15L174.46 261.15L176.97 261.15L179.47 261.15L181.98 261.15L184.48 261.15L186.99 261.15L189.50 261.15L192.00 261.15L194.51 261.15L197.01 261.15L199.52 261.15L202.02 261.15L204.53 261.15L207.04 261.15L209.54 261.15L212.05 261.15L214.55 261.15L217.06 261.15L219.56 261.15L222.07 261.15L224.58 261.15L227.08 261.15L229.59 261.15L232.09 261.15L234.60 261.15L237.10 261.15L239.61 261.15L242.12 261.15L244.62 261.15L247.13 261.15L249.63 261.15L252.14 261.15L254.64 261.15L257.15 261.15L259.66 261.14L262.16 261.13L264.67 261.12L267.17 261.09L269.68 261.05L272.18 260.98L274.69 260.86L277.20 260.67L279.70 260.36L282.21 259.89L284.71 259.17L287.22 258.11L289.72 256.57L292.23 254.38L294.74 251.35L297.24 247.24L299.75 241.80L302.25 234.77L304.76 225.89L307.27 214.96L309.77 201.85L312.28 186.51L314.78 169.07L317.29 149.80L319.79 129.17L322.30 107.81L324.81 86.52L327.31 66.22L329.82 47.86L332.32 32.39L334.83 20.66L337.33 13.34L339.84 10.85L342.35 13.34L344.85 20.66L347.36 32.39L349.86 47.86L352.37 66.22L354.87 86.52L357.38 107.81L359.89 129.17L362.39 149.80L364.90 169.07L367.40 186.51L369.91 201.85L372.41 214.96L374.92 225.89L377.43 234.77L379.93 241.80L382.44 247.24L384.94 251.35L387.45 254.38L389.95 256.57L392.46 258.11L394.97 259.17L397.47 259.89L399.98 260.36L402.48 260.67L404.99 260.86L407.50 260.98L410.00 261.05L412.51 261.09L415.01 261.12L417.52 261.13L420.02 261.14L422.53 261.15L425.04 261.15L427.54 261.15L430.05 261.15L432.55 261.15L435.06 261.15L437.56 261.15L440.07 261.15L442.58 261.15L445.08 261.15L447.59 261.15L450.09 261.15L452.60 261.15L455.10 261.15L457.61 261.15L460.12 261.15L462.62 261.15L465.13 261.15L467.63 261.15L470.14 261.15L472.64 261.15L475.15 261.15L477.66 261.15L480.16 261.15L482.67 261.15L485.17 261.15L487.68 261.15L490.18 261.15L492.69 261.15L495.20 261.15L497.70 261.15L500.21 261.15L502.71 261.15L505.22 261.15L507.73 261.15L510.23 261.15L512.74 261.15L515.24 261.15L517.75 261.15L520.25 261.15L522.76 261.15L525.27 261.15L527.77 261.15L530.28 261.15L532.78 261.15L535.29 261.15L537.79 261.15L540.30 261.15" fill="none" stroke="#7E2F8E" stroke-width="0.8" stroke-linejoin="round"/>
<g><path d="M37.80 259.80L40.50 262.50M37.80 262.50L40.50 259.80" stroke="#7E2F8E" stroke-width="0.85" fill="none"/><path d="M40.31 259.80L43.01 262.50M40.31 262.50L43.01 259.80" stroke="#7E2F8E" stroke-width="0.85" fill="none"/><path d="M42.81 259.80L45.51 262.50M42.81 262.50L45.51 259.80" stroke="#7E2F8E" stroke-width="0.85" fill="none"/><path d="M45.32 259.80L48.02 262.50M45.32 262.50L48.02 259.80" stroke="#7E2F8E" stroke-width="0.85" fill="none"/><path d="M47.82 259.80L50.52 262.50M47.82 262.50L50.52 259.80" stroke="#7E2F8E" stroke-width="0.85" fill="none"/><path d="M50.33 259.80L53.03 262.50M50.33 262.50L53.03 259.80" stroke="#7E2F8E" stroke-width="0.85" fill="none"/><path d="M52.83 259.80L55.53 262.50M52.83 262.50L55.53 259.80" stroke="#7E2F8E" stroke-width="0.85" fill="none"/><path d="M55.34 259.80L58.04 262.50M55.34 262.50L58.04 259.80" stroke="#7E2F8E" stroke-width="0.85" fill="none"/><path d="M57.85 259.80L60.55 262.50M57.85 262.50L60.55 259.80" stroke="#7E2F8E" stroke-width="0.85" fill="none"/><path d="M60.35 259.80L63.05 262.50M60.35 262.50L63.05 259.80" stroke="#7E2F8E" stroke-width="0.85" fill="none"/><path d="M62.86 259.80L65.56 262.50M62.86 262.50L65.56 259.80" stroke="#7E2F8E" stroke-width="0.85" fill="none"/><path d="M65.36 259.80L68.06 262.50M65.36 262.50L68.06 259.80" stroke="#7E2F8E" stroke-width="0.85" fill="none"/><path d="M67.87 259.80L70.57 262.50M67.87 262.50L70.57 259.80" stroke="#7E2F8E" stroke-width="0.85" fill="none"/><path d="M70.37 259.80L73.07 262.50M70.37 262.50L73.07 259.80" stroke="#7E2F8E" stroke-width="0.85" fill="none"/><path d="M72.88 259.80L75.58 262.50M72.88 262.50L75.58 259.80" stroke="#7E2F8E" stroke-width="0.85" fill="none"/><path d="M75.39 259.80L78.09 262.50M75.39 262.50L78.09 259.80" stroke="#7E2F8E" stroke-width="0.85" fill="none"/><path d="M77.89 259.80L80.59 262.50M77.89 262.50L80.59 259.80" stroke="#7E2F8E" stroke-width="0.85" fill="none"/><path d="M80.40 259.80L83.10 262.50M80.40 262.50L83.10 259.80" stroke="#7E2F8E" stroke-width="0.85" fill="none"/><path d="M82.90 259.80L85.60 262.50M82.90 262.50L85.60 259.80" stroke="#7E2F8E" stroke-width="0.85" fill="none"/><path d="M85.41 259.80L88.11 262.50M85.41 262.50L88.11 259.80" stroke="#7E2F8E" stroke-width="0.85" fill="none"/><path d="M87.91 259.80L90.61 262.50M87.91 262.50L90.61 259.80" stroke="#7E2F8E" stroke-width="0.85" fill="none"/><path d="M90.42 259.80L93.12 262.50M90.42 262.50L93.12 259.80" stroke="#7E2F8E" stroke-width="0.85" fill="none"/><path d="M92.93 259.80L95.63 262.50M92.93 262.50L95.63 259.80" stroke="#7E2F8E" stroke-width="0.85" fill="none"/><path d="M95.43 259.80L98.13 262.50M95.43 262.50L98.13 259.80" stroke="#7E2F8E" stroke-width="0.85" fill="none"/><path d="M97.94 259.80L100.64 262.50M97.94 262.50L100.64 259.80" stroke="#7E2F8E" stroke-width="0.85" fill="none"/><path d="M100.44 259.80L103.14 262.50M100.44 262.50L103.14 259.80" stroke="#7E2F8E" stroke-width="0.85" fill="none"/><path d="M102.95 259.80L105.65 262.50M102.95 262.50L105.65 259.80" stroke="#7E2F8E" stroke-width="0.85" fill="none"/><path d="M105.46 259.80L108.16 262.50M105.46 262.50L108.16 259.80" stroke="#7E2F8E" stroke-width="0.85" fill="none"/><path d="M107.96 259.80L110.66 262.50M107.96 262.50L110.66 259.80" stroke="#7E2F8E" stroke-width="0.85" fill="none"/><path d="M110.47 259.80L113.17 262.50M110.47 262.50L113.17 259.80" stroke="#7E2F8E" stroke-width="0.85" fill="none"/><path d="M112.97 259.80L115.67 262.50M112.97 262.50L115.67 259.80" stroke="#7E2F8E" stroke-width="0.85" fill="none"/><path d="M115.48 259.80L118.18 262.50M115.48 262.50L118.18 259.80" stroke="#7E2F8E" stroke-width="0.85" fill="none"/><path d="M117.98 259.80L120.68 262.50M117.98 262.50L120.68 259.80" stroke="#7E2F8E" stroke-width="0.85" fill="none"/><path d="M120.49 259.80L123.19 262.50M120.49 262.50L123.19 259.80" stroke="#7E2F8E" stroke-width="0.85" fill="none"/><path d="M123.00 259.80L125.70 262.50M123.00 262.50L125.70 259.80" stroke="#7E2F8E" stroke-width="0.85" fill="none"/><path d="M125.50 259.80L128.20 262.50M125.50 262.50L128.20 259.80" stroke="#7E2F8E" stroke-width="0.85" fill="none"/><path d="M128.01 259.80L130.71 262.50M128.01 262.50L130.71 259.80" stroke="#7E2F8E" stroke-width="0.85" fill="none"/><path d="M130.51 259.80L133.21 262.50M130.51 262.50L133.21 259.80" stroke="#7E2F8E" stroke-width="0.85" fill="none"/><path d="M133.02 259.80L135.72 262.50M133.02 262.50L135.72 259.80" stroke="#7E2F8E" stroke-width="0.85" fill="none"/><path d="M135.52 259.80L138.22 262.50M135.52 262.50L138.22 259.80" stroke="#7E2F8E" stroke-width="0.85" fill="none"/><path d="M138.03 259.80L140.73 262.50M138.03 262.50L140.73 259.80" stroke="#7E2F8E" stroke-width="0.85" fill="none"/><path d="M140.54 259.80L143.24 262.50M140.54 262.50L143.24 259.80" stroke="#7E2F8E" stroke-width="0.85" fill="none"/><path d="M143.04 259.80L145.74 262.50M143.04 262.50L145.74 259.80" stroke="#7E2F8E" stroke-width="0.85" fill="none"/><path d="M145.55 259.80L148.25 262.50M145.55 262.50L148.25 259.80" stroke="#7E2F8E" stroke-width="0.85" fill="none"/><path d="M148.05 259.80L150.75 262.50M148.05 262.50L150.75 259.80" stroke="#7E2F8E" stroke-width="0.85" fill="none"/><path d="M150.56 259.80L153.26 262.50M150.56 262.50L153.26 259.80" stroke="#7E2F8E" stroke-width="0.85" fill="none"/><path d="M153.06 259.80L155.76 262.50M153.06 262.50L155.76 259.80" stroke="#7E2F8E" stroke-width="0.85" fill="none"/><path d="M155.57 259.80L158.27 262.50M155.57 262.50L158.27 259.80" stroke="#7E2F8E" stroke-width="0.85" fill="none"/><path d="M158.08 259.80L160.78 262.50M158.08 262.50L160.78 259.80" stroke="#7E2F8E" stroke-width="0.85" fill="none"/><path d="M160.58 259.80L163.28 262.50M160.58 262.50L163.28 259.80" stroke="#7E2F8E" stroke-width="0.85" fill="none"/><path d="M163.09 259.80L165.79 262.50M163.09 262.50L165.79 259.80" stroke="#7E2F8E" stroke-width="0.85" fill="none"/><path d="M165.59 259.80L168.29 262.50M165.59 262.50L168.29 259.80" stroke="#7E2F8E" stroke-width="0.85" fill="none"/><path d="M168.10 259.80L170.80 262.50M168.10 262.50L170.80 259.80" stroke="#7E2F8E" stroke-width="0.85" fill="none"/><path d="M170.60 259.80L173.30 262.50M170.60 262.50L173.30 259.80" stroke="#7E2F8E" stroke-width="0.85" fill="none"/><path d="M173.11 259.80L175.81 262.50M173.11 262.50L175.81 259.80" stroke="#7E2F8E" stroke-width="0.85" fill="none"/><path d="M175.62 259.80L178.32 262.50M175.62 262.50L178.32 259.80" stroke="#7E2F8E" stroke-width="0.85" fill="none"/><path d="M178.12 259.80L180.82 262.50M178.12 262.50L180.82 259.80" stroke="#7E2F8E" stroke-width="0.85" fill="none"/><path d="M180.63 259.80L183.33 262.50M180.63 262.50L183.33 259.80" stroke="#7E2F8E" stroke-width="0.85" fill="none"/><path d="M183.13 259.80L185.83 262.50M183.13 262.50L185.83 259.80" stroke="#7E2F8E" stroke-width="0.85" fill="none"/><path d="M185.64 259.80L188.34 262.50M185.64 262.50L188.34 259.80" stroke="#7E2F8E" stroke-width="0.85" fill="none"/><path d="M188.15 259.80L190.84 262.50M188.15 262.50L190.84 259.80" stroke="#7E2F8E" stroke-width="0.85" fill="none"/><path d="M190.65 259.80L193.35 262.50M190.65 262.50L193.35 259.80" stroke="#7E2F8E" stroke-width="0.85" fill="none"/><path d="M193.16 259.80L195.86 262.50M193.16 262.50L195.86 259.80" stroke="#7E2F8E" stroke-width="0.85" fill="none"/><path d="M195.66 259.80L198.36 262.50M195.66 262.50L198.36 259.80" stroke="#7E2F8E" stroke-width="0.85" fill="none"/><path d="M198.17 259.80L200.87 262.50M198.17 262.50L200.87 259.80" stroke="#7E2F8E" stroke-width="0.85" fill="none"/><path d="M200.67 259.80L203.37 262.50M200.67 262.50L203.37 259.80" stroke="#7E2F8E" stroke-width="0.85" fill="none"/><path d="M203.18 259.80L205.88 262.50M203.18 262.50L205.88 259.80" stroke="#7E2F8E" stroke-width="0.85" fill="none"/><path d="M205.69 259.80L208.39 262.50M205.69 262.50L208.39 259.80" stroke="#7E2F8E" stroke-width="0.85" fill="none"/><path d="M208.19 259.80L210.89 262.50M208.19 262.50L210.89 259.80" stroke="#7E2F8E" stroke-width="0.85" fill="none"/><path d="M210.70 259.80L213.40 262.50M210.70 262.50L213.40 259.80" stroke="#7E2F8E" stroke-width="0.85" fill="none"/><path d="M213.20 259.80L215.90 262.50M213.20 262.50L215.90 259.80" stroke="#7E2F8E" stroke-width="0.85" fill="none"/><path d="M215.71 259.80L218.41 262.50M215.71 262.50L218.41 259.80" stroke="#7E2F8E" stroke-width="0.85" fill="none"/><path d="M218.21 259.80L220.91 262.50M218.21 262.50L220.91 259.80" stroke="#7E2F8E" stroke-width="0.85" fill="none"/><path d="M220.72 259.80L223.42 262.50M220.72 262.50L223.42 259.80" stroke="#7E2F8E" stroke-width="0.85" fill="none"/><path d="M223.23 259.80L225.93 262.50M223.23 262.50L225.93 259.80" stroke="#7E2F8E" stroke-width="0.85" fill="none"/><path d="M225.73 259.80L228.43 262.50M225.73 262.50L228.43 259.80" stroke="#7E2F8E" stroke-width="0.85" fill="none"/><path d="M228.24 259.80L230.94 262.50M228.24 262.50L230.94 259.80" stroke="#7E2F8E" stroke-width="0.85" fill="none"/><path d="M230.74 259.80L233.44 262.50M230.74 262.50L233.44 259.80" stroke="#7E2F8E" stroke-width="0.85" fill="none"/><path d="M233.25 259.80L235.95 262.50M233.25 262.50L235.95 259.80" stroke="#7E2F8E" stroke-width="0.85" fill="none"/><path d="M235.75 259.80L238.45 262.50M235.75 262.50L238.45 259.80" stroke="#7E2F8E" stroke-width="0.85" fill="none"/><path d="M238.26 259.80L240.96 262.50M238.26 262.50L240.96 259.80" stroke="#7E2F8E" stroke-width="0.85" fill="none"/><path d="M240.77 259.80L243.47 262.50M240.77 262.50L243.47 259.80" stroke="#7E2F8E" stroke-width="0.85" fill="none"/><path d="M243.27 259.80L245.97 262.50M243.27 262.50L245.97 259.80" stroke="#7E2F8E" stroke-width="0.85" fill="none"/><path d="M245.78 259.80L248.48 262.50M245.78 262.50L248.48 259.80" stroke="#7E2F8E" stroke-width="0.85" fill="none"/><path d="M248.28 259.80L250.98 262.50M248.28 262.50L250.98 259.80" stroke="#7E2F8E" stroke-width="0.85" fill="none"/><path d="M250.79 259.80L253.49 262.50M250.79 262.50L253.49 259.80" stroke="#7E2F8E" stroke-width="0.85" fill="none"/><path d="M253.29 259.80L255.99 262.50M253.29 262.50L255.99 259.80" stroke="#7E2F8E" stroke-width="0.85" fill="none"/><path d="M255.80 259.80L258.50 262.50M255.80 262.50L258.50 259.80" stroke="#7E2F8E" stroke-width="0.85" fill="none"/><path d="M258.31 259.79L261.01 262.49M258.31 262.49L261.01 259.79" stroke="#7E2F8E" stroke-width="0.85" fill="none"/><path d="M260.81 259.78L263.51 262.48M260.81 262.48L263.51 259.78" stroke="#7E2F8E" stroke-width="0.85" fill="none"/><path d="M263.32 259.77L266.02 262.47M263.32 262.47L266.02 259.77" stroke="#7E2F8E" stroke-width="0.85" fill="none"/><path d="M265.82 259.74L268.52 262.44M265.82 262.44L268.52 259.74" stroke="#7E2F8E" stroke-width="0.85" fill="none"/><path d="M268.33 259.70L271.03 262.40M268.33 262.40L271.03 259.70" stroke="#7E2F8E" stroke-width="0.85" fill="none"/><path d="M270.83 259.63L273.53 262.33M270.83 262.33L273.53 259.63" stroke="#7E2F8E" stroke-width="0.85" fill="none"/><path d="M273.34 259.51L276.04 262.21M273.34 262.21L276.04 259.51" stroke="#7E2F8E" stroke-width="0.85" fill="none"/><path d="M275.85 259.32L278.55 262.02M275.85 262.02L278.55 259.32" stroke="#7E2F8E" stroke-width="0.85" fill="none"/><path d="M278.35 259.01L281.05 261.71M278.35 261.71L281.05 259.01" stroke="#7E2F8E" stroke-width="0.85" fill="none"/><path d="M280.86 258.54L283.56 261.24M280.86 261.24L283.56 258.54" stroke="#7E2F8E" stroke-width="0.85" fill="none"/><path d="M283.36 257.82L286.06 260.52M283.36 260.52L286.06 257.82" stroke="#7E2F8E" stroke-width="0.85" fill="none"/><path d="M285.87 256.76L288.57 259.46M285.87 259.46L288.57 256.76" stroke="#7E2F8E" stroke-width="0.85" fill="none"/><path d="M288.37 255.22L291.07 257.92M288.37 257.92L291.07 255.22" stroke="#7E2F8E" stroke-width="0.85" fill="none"/><path d="M290.88 253.03L293.58 255.73M290.88 255.73L293.58 253.03" stroke="#7E2F8E" stroke-width="0.85" fill="none"/><path d="M293.39 250.00L296.09 252.70M293.39 252.70L296.09 250.00" stroke="#7E2F8E" stroke-width="0.85" fill="none"/><path d="M295.89 245.89L298.59 248.59M295.89 248.59L298.59 245.89" stroke="#7E2F8E" stroke-width="0.85" fill="none"/><path d="M298.40 240.45L301.10 243.15M298.40 243.15L301.10 240.45" stroke="#7E2F8E" stroke-width="0.85" fill="none"/><path d="M300.90 233.42L303.60 236.12M300.90 236.12L303.60 233.42" stroke="#7E2F8E" stroke-width="0.85" fill="none"/><path d="M303.41 224.54L306.11 227.24M303.41 227.24L306.11 224.54" stroke="#7E2F8E" stroke-width="0.85" fill="none"/><path d="M305.92 213.61L308.62 216.31M305.92 216.31L308.62 213.61" stroke="#7E2F8E" stroke-width="0.85" fill="none"/><path d="M308.42 200.50L311.12 203.20M308.42 203.20L311.12 200.50" stroke="#7E2F8E" stroke-width="0.85" fill="none"/><path d="M310.93 185.16L313.63 187.86M310.93 187.86L313.63 185.16" stroke="#7E2F8E" stroke-width="0.85" fill="none"/><path d="M313.43 167.72L316.13 170.42M313.43 170.42L316.13 167.72" stroke="#7E2F8E" stroke-width="0.85" fill="none"/><path d="M315.94 148.45L318.64 151.15M315.94 151.15L318.64 148.45" stroke="#7E2F8E" stroke-width="0.85" fill="none"/><path d="M318.44 127.82L321.14 130.52M318.44 130.52L321.14 127.82" stroke="#7E2F8E" stroke-width="0.85" fill="none"/><path d="M320.95 106.46L323.65 109.16M320.95 109.16L323.65 106.46" stroke="#7E2F8E" stroke-width="0.85" fill="none"/><path d="M323.46 85.17L326.16 87.87M323.46 87.87L326.16 85.17" stroke="#7E2F8E" stroke-width="0.85" fill="none"/><path d="M325.96 64.87L328.66 67.57M325.96 67.57L328.66 64.87" stroke="#7E2F8E" stroke-width="0.85" fill="none"/><path d="M328.47 46.51L331.17 49.21M328.47 49.21L331.17 46.51" stroke="#7E2F8E" stroke-width="0.85" fill="none"/><path d="M330.97 31.04L333.67 33.74M330.97 33.74L333.67 31.04" stroke="#7E2F8E" stroke-width="0.85" fill="none"/><path d="M333.48 19.31L336.18 22.01M333.48 22.01L336.18 19.31" stroke="#7E2F8E" stroke-width="0.85" fill="none"/><path d="M335.98 11.99L338.68 14.69M335.98 14.69L338.68 11.99" stroke="#7E2F8E" stroke-width="0.85" fill="none"/><path d="M338.49 9.50L341.19 12.20M338.49 12.20L341.19 9.50" stroke="#7E2F8E" stroke-width="0.85" fill="none"/><path d="M341.00 11.99L343.70 14.69M341.00 14.69L343.70 11.99" stroke="#7E2F8E" stroke-width="0.85" fill="none"/><path d="M343.50 19.31L346.20 22.01M343.50 22.01L346.20 19.31" stroke="#7E2F8E" stroke-width="0.85" fill="none"/><path d="M346.01 31.04L348.71 33.74M346.01 33.74L348.71 31.04" stroke="#7E2F8E" stroke-width="0.85" fill="none"/><path d="M348.51 46.51L351.21 49.21M348.51 49.21L351.21 46.51" stroke="#7E2F8E" stroke-width="0.85" fill="none"/><path d="M351.02 64.87L353.72 67.57M351.02 67.57L353.72 64.87" stroke="#7E2F8E" stroke-width="0.85" fill="none"/><path d="M353.52 85.17L356.22 87.87M353.52 87.87L356.22 85.17" stroke="#7E2F8E" stroke-width="0.85" fill="none"/><path d="M356.03 106.46L358.73 109.16M356.03 109.16L358.73 106.46" stroke="#7E2F8E" stroke-width="0.85" fill="none"/><path d="M358.54 127.82L361.24 130.52M358.54 130.52L361.24 127.82" stroke="#7E2F8E" stroke-width="0.85" fill="none"/><path d="M361.04 148.45L363.74 151.15M361.04 151.15L363.74 148.45" stroke="#7E2F8E" stroke-width="0.85" fill="none"/><path d="M363.55 167.72L366.25 170.42M363.55 170.42L366.25 167.72" stroke="#7E2F8E" stroke-width="0.85" fill="none"/><path d="M366.05 185.16L368.75 187.86M366.05 187.86L368.75 185.16" stroke="#7E2F8E" stroke-width="0.85" fill="none"/><path d="M368.56 200.50L371.26 203.20M368.56 203.20L371.26 200.50" stroke="#7E2F8E" stroke-width="0.85" fill="none"/><path d="M371.06 213.61L373.76 216.31M371.06 216.31L373.76 213.61" stroke="#7E2F8E" stroke-width="0.85" fill="none"/><path d="M373.57 224.54L376.27 227.24M373.57 227.24L376.27 224.54" stroke="#7E2F8E" stroke-width="0.85" fill="none"/><path d="M376.08 233.42L378.78 236.12M376.08 236.12L378.78 233.42" stroke="#7E2F8E" stroke-width="0.85" fill="none"/><path d="M378.58 240.45L381.28 243.15M378.58 243.15L381.28 240.45" stroke="#7E2F8E" stroke-width="0.85" fill="none"/><path d="M381.09 245.89L383.79 248.59M381.09 248.59L383.79 245.89" stroke="#7E2F8E" stroke-width="0.85" fill="none"/><path d="M383.59 250.00L386.29 252.70M383.59 252.70L386.29 250.00" stroke="#7E2F8E" stroke-width="0.85" fill="none"/><path d="M386.10 253.03L388.80 255.73M386.10 255.73L388.80 253.03" stroke="#7E2F8E" stroke-width="0.85" fill="none"/><path d="M388.60 255.22L391.31 257.92M388.60 257.92L391.31 255.22" stroke="#7E2F8E" stroke-width="0.85" fill="none"/><path d="M391.11 256.76L393.81 259.46M391.11 259.46L393.81 256.76" stroke="#7E2F8E" stroke-width="0.85" fill="none"/><path d="M393.62 257.82L396.32 260.52M393.62 260.52L396.32 257.82" stroke="#7E2F8E" stroke-width="0.85" fill="none"/><path d="M396.12 258.54L398.82 261.24M396.12 261.24L398.82 258.54" stroke="#7E2F8E" stroke-width="0.85" fill="none"/><path d="M398.63 259.01L401.33 261.71M398.63 261.71L401.33 259.01" stroke="#7E2F8E" stroke-width="0.85" fill="none"/><path d="M401.13 259.32L403.83 262.02M401.13 262.02L403.83 259.32" stroke="#7E2F8E" stroke-width="0.85" fill="none"/><path d="M403.64 259.51L406.34 262.21M403.64 262.21L406.34 259.51" stroke="#7E2F8E" stroke-width="0.85" fill="none"/><path d="M406.15 259.63L408.85 262.33M406.15 262.33L408.85 259.63" stroke="#7E2F8E" stroke-width="0.85" fill="none"/><path d="M408.65 259.70L411.35 262.40M408.65 262.40L411.35 259.70" stroke="#7E2F8E" stroke-width="0.85" fill="none"/><path d="M411.16 259.74L413.86 262.44M411.16 262.44L413.86 259.74" stroke="#7E2F8E" stroke-width="0.85" fill="none"/><path d="M413.66 259.77L416.36 262.47M413.66 262.47L416.36 259.77" stroke="#7E2F8E" stroke-width="0.85" fill="none"/><path d="M416.17 259.78L418.87 262.48M416.17 262.48L418.87 259.78" stroke="#7E2F8E" stroke-width="0.85" fill="none"/><path d="M418.67 259.79L421.37 262.49M418.67 262.49L421.37 259.79" stroke="#7E2F8E" stroke-width="0.85" fill="none"/><path d="M421.18 259.80L423.88 262.50M421.18 262.50L423.88 259.80" stroke="#7E2F8E" stroke-width="0.85" fill="none"/><path d="M423.69 259.80L426.39 262.50M423.69 262.50L426.39 259.80" stroke="#7E2F8E" stroke-width="0.85" fill="none"/><path d="M426.19 259.80L428.89 262.50M426.19 262.50L428.89 259.80" stroke="#7E2F8E" stroke-width="0.85" fill="none"/><path d="M428.70 259.80L431.40 262.50M428.70 262.50L431.40 259.80" stroke="#7E2F8E" stroke-width="0.85" fill="none"/><path d="M431.20 259.80L433.90 262.50M431.20 262.50L433.90 259.80" stroke="#7E2F8E" stroke-width="0.85" fill="none"/><path d="M433.71 259.80L436.41 262.50M433.71 262.50L436.41 259.80" stroke="#7E2F8E" stroke-width="0.85" fill="none"/><path d="M436.21 259.80L438.91 262.50M436.21 262.50L438.91 259.80" stroke="#7E2F8E" stroke-width="0.85" fill="none"/><path d="M438.72 259.80L441.42 262.50M438.72 262.50L441.42 259.80" stroke="#7E2F8E" stroke-width="0.85" fill="none"/><path d="M441.23 259.80L443.93 262.50M441.23 262.50L443.93 259.80" stroke="#7E2F8E" stroke-width="0.85" fill="none"/><path d="M443.73 259.80L446.43 262.50M443.73 262.50L446.43 259.80" stroke="#7E2F8E" stroke-width="0.85" fill="none"/><path d="M446.24 259.80L448.94 262.50M446.24 262.50L448.94 259.80" stroke="#7E2F8E" stroke-width="0.85" fill="none"/><path d="M448.74 259.80L451.44 262.50M448.74 262.50L451.44 259.80" stroke="#7E2F8E" stroke-width="0.85" fill="none"/><path d="M451.25 259.80L453.95 262.50M451.25 262.50L453.95 259.80" stroke="#7E2F8E" stroke-width="0.85" fill="none"/><path d="M453.75 259.80L456.45 262.50M453.75 262.50L456.45 259.80" stroke="#7E2F8E" stroke-width="0.85" fill="none"/><path d="M456.26 259.80L458.96 262.50M456.26 262.50L458.96 259.80" stroke="#7E2F8E" stroke-width="0.85" fill="none"/><path d="M458.77 259.80L461.47 262.50M458.77 262.50L461.47 259.80" stroke="#7E2F8E" stroke-width="0.85" fill="none"/><path d="M461.27 259.80L463.97 262.50M461.27 262.50L463.97 259.80" stroke="#7E2F8E" stroke-width="0.85" fill="none"/><path d="M463.78 259.80L466.48 262.50M463.78 262.50L466.48 259.80" stroke="#7E2F8E" stroke-width="0.85" fill="none"/><path d="M466.28 259.80L468.98 262.50M466.28 262.50L468.98 259.80" stroke="#7E2F8E" stroke-width="0.85" fill="none"/><path d="M468.79 259.80L471.49 262.50M468.79 262.50L471.49 259.80" stroke="#7E2F8E" stroke-width="0.85" fill="none"/><path d="M471.29 259.80L473.99 262.50M471.29 262.50L473.99 259.80" stroke="#7E2F8E" stroke-width="0.85" fill="none"/><path d="M473.80 259.80L476.50 262.50M473.80 262.50L476.50 259.80" stroke="#7E2F8E" stroke-width="0.85" fill="none"/><path d="M476.31 259.80L479.01 262.50M476.31 262.50L479.01 259.80" stroke="#7E2F8E" stroke-width="0.85" fill="none"/><path d="M478.81 259.80L481.51 262.50M478.81 262.50L481.51 259.80" stroke="#7E2F8E" stroke-width="0.85" fill="none"/><path d="M481.32 259.80L484.02 262.50M481.32 262.50L484.02 259.80" stroke="#7E2F8E" stroke-width="0.85" fill="none"/><path d="M483.82 259.80L486.52 262.50M483.82 262.50L486.52 259.80" stroke="#7E2F8E" stroke-width="0.85" fill="none"/><path d="M486.33 259.80L489.03 262.50M486.33 262.50L489.03 259.80" stroke="#7E2F8E" stroke-width="0.85" fill="none"/><path d="M488.83 259.80L491.53 262.50M488.83 262.50L491.53 259.80" stroke="#7E2F8E" stroke-width="0.85" fill="none"/><path d="M491.34 259.80L494.04 262.50M491.34 262.50L494.04 259.80" stroke="#7E2F8E" stroke-width="0.85" fill="none"/><path d="M493.85 259.80L496.55 262.50M493.85 262.50L496.55 259.80" stroke="#7E2F8E" stroke-width="0.85" fill="none"/><path d="M496.35 259.80L499.05 262.50M496.35 262.50L499.05 259.80" stroke="#7E2F8E" stroke-width="0.85" fill="none"/><path d="M498.86 259.80L501.56 262.50M498.86 262.50L501.56 259.80" stroke="#7E2F8E" stroke-width="0.85" fill="none"/><path d="M501.36 259.80L504.06 262.50M501.36 262.50L504.06 259.80" stroke="#7E2F8E" stroke-width="0.85" fill="none"/><path d="M503.87 259.80L506.57 262.50M503.87 262.50L506.57 259.80" stroke="#7E2F8E" stroke-width="0.85" fill="none"/><path d="M506.38 259.80L509.08 262.50M506.38 262.50L509.08 259.80" stroke="#7E2F8E" stroke-width="0.85" fill="none"/><path d="M508.88 259.80L511.58 262.50M508.88 262.50L511.58 259.80" stroke="#7E2F8E" stroke-width="0.85" fill="none"/><path d="M511.39 259.80L514.09 262.50M511.39 262.50L514.09 259.80" stroke="#7E2F8E" stroke-width="0.85" fill="none"/><path d="M513.89 259.80L516.59 262.50M513.89 262.50L516.59 259.80" stroke="#7E2F8E" stroke-width="0.85" fill="none"/><path d="M516.40 259.80L519.10 262.50M516.40 262.50L519.10 259.80" stroke="#7E2F8E" stroke-width="0.85" fill="none"/><path d="M518.90 259.80L521.60 262.50M518.90 262.50L521.60 259.80" stroke="#7E2F8E" stroke-width="0.85" fill="none"/><path d="M521.41 259.80L524.11 262.50M521.41 262.50L524.11 259.80" stroke="#7E2F8E" stroke-width="0.85" fill="none"/><path d="M523.92 259.80L526.62 262.50M523.92 262.50L526.62 259.80" stroke="#7E2F8E" stroke-width="0.85" fill="none"/><path d="M526.42 259.80L529.12 262.50M526.42 262.50L529.12 259.80" stroke="#7E2F8E" stroke-width="0.85" fill="none"/><path d="M528.93 259.80L531.63 262.50M528.93 262.50L531.63 259.80" stroke="#7E2F8E" stroke-width="0.85" fill="none"/><path d="M531.43 259.80L534.13 262.50M531.43 262.50L534.13 259.80" stroke="#7E2F8E" stroke-width="0.85" fill="none"/><path d="M533.94 259.80L536.64 262.50M533.94 262.50L536.64 259.80" stroke="#7E2F8E" stroke-width="0.85" fill="none"/><path d="M536.44 259.80L539.14 262.50M536.44 262.50L539.14 259.80" stroke="#7E2F8E" stroke-width="0.85" fill="none"/><path d="M538.95 259.80L541.65 262.50M538.95 262.50L541.65 259.80" stroke="#7E2F8E" stroke-width="0.85" fill="none"/></g>
<path d="M39.15 261.15L41.66 261.15L44.16 261.15L46.67 261.15L49.17 261.15L51.68 261.15L54.18 261.15L56.69 261.15L59.20 261.15L61.70 261.15L64.21 261.15L66.71 261.15L69.22 261.15L71.72 261.15L74.23 261.15L76.74 261.15L79.24 261.15L81.75 261.15L84.25 261.15L86.76 261.15L89.26 261.15L91.77 261.15L94.28 261.15L96.78 261.15L99.29 261.15L101.79 261.15L104.30 261.15L106.81 261.15L109.31 261.15L111.82 261.15L114.32 261.15L116.83 261.15L119.33 261.15L121.84 261.15L124.35 261.15L126.85 261.15L129.36 261.15L131.86 261.15L134.37 261.15L136.87 261.15L139.38 261.15L141.89 261.15L144.39 261.15L146.90 261.15L149.40 261.15L151.91 261.15L154.41 261.15L156.92 261.15L159.43 261.15L161.93 261.15L164.44 261.15L166.94 261.15L169.45 261.15L171.95 261.15L174.46 261.15L176.97 261.15L179.47 261.15L181.98 261.15L184.48 261.15L186.99 261.15L189.50 261.15L192.00 261.15L194.51 261.15L197.01 261.15L199.52 261.15L202.02 261.15L204.53 261.15L207.04 261.15L209.54 261.15L212.05 261.15L214.55 261.15L217.06 261.15L219.56 261.15L222.07 261.15L224.58 261.15L227.08 261.15L229.59 261.15L232.09 261.15L234.60 261.15L237.10 261.15L239.61 261.15L242.12 261.15L244.62 261.15L247.13 261.15L249.63 261.15L252.14 261.15L254.64 261.15L257.15 261.15L259.66 261.15L262.16 261.15L264.67 261.15L267.17 261.15L269.68 261.15L272.18 261.15L274.69 261.15L277.20 261.15L279.70 261.15L282.21 261.14L284.71 261.13L287.22 261.11L289.72 261.07L292.23 260.97L294.74 260.77L297.24 260.38L299.75 259.65L302.25 258.37L304.76 256.18L307.27 252.63L309.77 247.10L312.28 238.89L314.78 227.28L317.29 211.62L319.79 191.56L322.30 167.21L324.81 139.32L327.31 109.34L329.82 79.39L332.32 52.08L334.83 30.09L337.33 15.81L339.84 10.85L342.35 15.81L344.85 30.09L347.36 52.08L349.86 79.39L352.37 109.34L354.87 139.32L357.38 167.21L359.89 191.56L362.39 211.62L364.90 227.28L367.40 238.89L369.91 247.10L372.41 252.63L374.92 256.18L377.43 258.37L379.93 259.65L382.44 260.38L384.94 260.77L387.45 260.97L389.95 261.07L392.46 261.11L394.97 261.13L397.47 261.14L399.98 261.15L402.48 261.15L404.99 261.15L407.50 261.15L410.00 261.15L412.51 261.15L415.01 261.15L417.52 261.15L420.02 261.15L422.53 261.15L425.04 261.15L427.54 261.15L430.05 261.15L432.55 261.15L435.06 261.15L437.56 261.15L440.07 261.15L442.58 261.15L445.08 261.15L447.59 261.15L450.09 261.15L452.60 261.15L455.10 261.15L457.61 261.15L460.12 261.15L462.62 261.15L465.13 261.15L467.63 261.15L470.14 261.15L472.64 261.15L475.15 261.15L477.66 261.15L480.16 261.15L482.67 261.15L485.17 261.15L487.68 261.15L490.18 261.15L492.69 261.15L495.20 261.15L497.70 261.15L500.21 261.15L502.71 261.15L505.22 261.15L507.73 261.15L510.23 261.15L512.74 261.15L515.24 261.15L517.75 261.15L520.25 261.15L522.76 261.15L525.27 261.15L527.77 261.15L530.28 261.15L532.78 261.15L535.29 261.15L537.79 261.15L540.30 261.15" fill="none" stroke="#77AC30" stroke-width="0.85" stroke-linejoin="round"/>
<g font-family='"Liberation Serif", serif' font-size="13.2" fill="#262626">
<text transform="translate(37.50 276.4) scale(0.96 1)" text-anchor="middle">−<tspan dx="0.6">1</tspan></text>
<text transform="translate(87.61 276.4) scale(0.96 1)" text-anchor="middle">−<tspan dx="0.6">0.8</tspan></text>
<text transform="translate(137.73 276.4) scale(0.96 1)" text-anchor="middle">−<tspan dx="0.6">0.6</tspan></text>
<text transform="translate(187.85 276.4) scale(0.96 1)" text-anchor="middle">−<tspan dx="0.6">0.4</tspan></text>
<text transform="translate(237.96 276.4) scale(0.96 1)" text-anchor="middle">−<tspan dx="0.6">0.2</tspan></text>
<text transform="translate(289.88 276.4) scale(0.96 1)" text-anchor="middle">0</text>
<text transform="translate(339.99 276.4) scale(0.96 1)" text-anchor="middle">0.2</text>
<text transform="translate(390.11 276.4) scale(0.96 1)" text-anchor="middle">0.4</text>
<text transform="translate(440.22 276.4) scale(0.96 1)" text-anchor="middle">0.6</text>
<text transform="translate(490.33 276.4) scale(0.96 1)" text-anchor="middle">0.8</text>
<text transform="translate(540.45 276.4) scale(0.96 1)" text-anchor="middle">1</text>
<text transform="translate(35.1 265.25)" text-anchor="end">0</text>
<text transform="translate(35.1 215.19)" text-anchor="end">0.2</text>
<text transform="translate(35.1 165.13)" text-anchor="end">0.4</text>
<text transform="translate(35.1 115.07)" text-anchor="end">0.6</text>
<text transform="translate(35.1 65.01)" text-anchor="end">0.8</text>
<text transform="translate(35.1 14.95)" text-anchor="end">1</text>
<text x="288.9" y="286.6" text-anchor="middle" font-size="13">x</text>
<text transform="translate(16.75 136) rotate(-90)" text-anchor="middle" font-size="13" textLength="120.9" lengthAdjust="spacingAndGlyphs" stroke="#262626" stroke-width="0.3">Gaussian kernel value</text>
<g>
<text y="248.3" font-size="13.2" stroke="#262626" stroke-width="0.15"><tspan x="326.0">x</tspan><tspan x="331.8" font-size="11.4" stroke-width="0.45" textLength="9.64" lengthAdjust="spacingAndGlyphs">=</tspan><tspan x="341.45">0.2</tspan></text>
<line x1="78.9" y1="23.5" x2="97.7" y2="23.5" stroke="#0072BD" stroke-width="0.75"/>
<circle cx="88.30" cy="23.50" r="1.15" fill="#0072BD"/>
<text transform="translate(100 27.15) scale(1.07 1.02)" font-size="12.4" class="b"><tspan x="0">r</tspan><tspan x="3.93" font-size="11.2" stroke-width="0.4" textLength="9.01" lengthAdjust="spacingAndGlyphs">=</tspan><tspan x="12.95">5</tspan></text>
<line x1="78.9" y1="39.3" x2="97.7" y2="39.3" stroke="#D95319" stroke-width="0.75"/>
<circle cx="88.30" cy="39.30" r="1.0" fill="#D95319"/>
<text transform="translate(100 42.95) scale(1.07 1.02)" font-size="12.4" class="b"><tspan x="0">r</tspan><tspan x="3.93" font-size="11.2" stroke-width="0.4" textLength="9.01" lengthAdjust="spacingAndGlyphs">=</tspan><tspan x="12.95">20</tspan></text>
<line x1="78.9" y1="55.15" x2="97.7" y2="55.15" stroke="#EDB120" stroke-width="0.75"/>
<circle cx="88.30" cy="55.15" r="1.1" fill="#EDB120"/><path d="M86.40 55.15L90.20 55.15M88.30 53.25L88.30 57.05M86.96 53.81L89.64 56.49M86.96 56.49L89.64 53.81" stroke="#EDB120" stroke-width="0.8" fill="none"/>
<text transform="translate(100 58.80) scale(1.07 1.02)" font-size="12.4" class="b"><tspan x="0">r</tspan><tspan x="3.93" font-size="11.2" stroke-width="0.4" textLength="9.01" lengthAdjust="spacingAndGlyphs">=</tspan><tspan x="12.95">50</tspan></text>
<line x1="78.9" y1="71.0" x2="97.7" y2="71.0" stroke="#7E2F8E" stroke-width="0.75"/>
<path d="M86.95 69.65L89.65 72.35M86.95 72.35L89.65 69.65" stroke="#7E2F8E" stroke-width="0.85" fill="none"/>
<text transform="translate(100 74.65) scale(1.07 1.02)" font-size="12.4" class="b"><tspan x="0">r</tspan><tspan x="3.93" font-size="11.2" stroke-width="0.4" textLength="9.01" lengthAdjust="spacingAndGlyphs">=</tspan><tspan x="12.95">100</tspan></text>
<line x1="78.9" y1="86.8" x2="97.7" y2="86.8" stroke="#77AC30" stroke-width="1.0"/>
<text transform="translate(100 90.45) scale(1.07 1.02)" font-size="12.4" class="b"><tspan x="0">r</tspan><tspan x="3.93" font-size="11.2" stroke-width="0.4" textLength="9.01" lengthAdjust="spacingAndGlyphs">=</tspan><tspan x="12.95">200</tspan></text>
</g>
</g>
</svg>
</body></html>
